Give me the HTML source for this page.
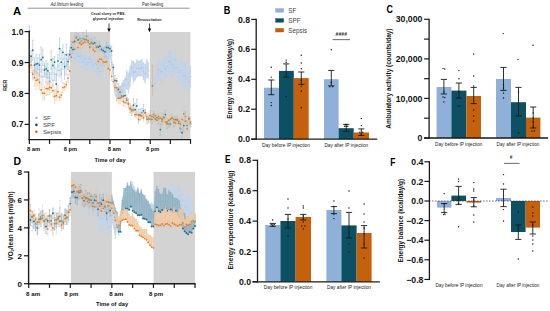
<!DOCTYPE html>
<html><head><meta charset="utf-8"><style>
html,body{margin:0;padding:0;background:#fff;}
svg{display:block;font-family:"Liberation Sans", sans-serif;}
</style></head><body>
<svg width="550" height="311" viewBox="0 0 550 311">
<rect width="550" height="311" fill="#fff"/>
<rect x="70.00" y="32.00" width="40.00" height="107.50" fill="#d3d3d3"/>
<rect x="150.00" y="32.00" width="40.40" height="107.50" fill="#d3d3d3"/>
<polygon points="68.00,58.77 69.67,46.85 71.35,51.11 73.03,43.24 74.71,52.65 76.39,47.33 78.07,50.97 79.74,49.78 81.42,49.20 83.10,56.03 84.78,51.51 86.46,58.10 88.13,57.84 89.81,50.91 91.49,55.57 93.17,58.73 94.85,55.17 96.53,56.54 98.20,62.48 99.88,64.61 101.56,59.20 103.24,55.53 104.92,53.06 106.59,49.06 108.27,52.34 109.95,46.65 111.63,57.34 113.31,66.85 114.98,84.39 116.66,89.94 118.34,86.29 120.02,87.30 121.70,83.62 123.38,80.25 125.05,78.15 126.73,70.76 128.41,73.28 130.09,66.38 131.77,60.63 133.44,61.57 135.12,63.77 136.80,59.92 138.48,61.14 140.16,60.74 141.83,59.42 143.51,62.90 145.19,64.60 146.87,59.40 148.55,62.95 148.55,78.62 146.87,77.22 145.19,82.91 143.51,79.81 141.83,75.87 140.16,76.22 138.48,75.71 136.80,77.03 135.12,80.00 133.44,82.50 131.77,75.32 130.09,86.54 128.41,92.98 126.73,88.52 125.05,92.65 123.38,90.63 121.70,95.74 120.02,100.36 118.34,97.71 116.66,101.42 114.98,94.90 113.31,79.66 111.63,67.76 109.95,56.21 108.27,64.46 106.59,63.82 104.92,62.53 103.24,71.24 101.56,71.92 99.88,78.32 98.20,74.09 96.53,72.61 94.85,71.86 93.17,72.04 91.49,69.33 89.81,67.03 88.13,67.65 86.46,70.72 84.78,65.79 83.10,68.46 81.42,62.24 79.74,62.55 78.07,61.70 76.39,59.77 74.71,63.56 73.03,53.32 71.35,61.19 69.67,55.21 68.00,69.77" fill="#c3d4ea" fill-opacity="0.8"/>
<polygon points="153.58,77.91 155.26,75.79 156.94,65.87 158.62,59.10 160.29,63.27 161.97,59.72 163.65,57.48 165.33,58.19 167.01,57.86 168.68,51.36 170.36,50.11 172.04,52.35 173.72,58.48 175.40,48.15 177.07,58.90 178.75,64.79 180.43,58.59 182.11,60.69 183.79,63.45 185.47,63.20 187.14,67.71 188.82,71.54 190.50,66.56 190.50,86.89 188.82,90.87 187.14,87.27 185.47,88.83 183.79,87.87 182.11,85.95 180.43,82.27 178.75,80.11 177.07,76.61 175.40,72.67 173.72,76.59 172.04,75.99 170.36,74.54 168.68,72.34 167.01,75.70 165.33,79.12 163.65,74.18 161.97,83.58 160.29,79.77 158.62,80.12 156.94,81.62 155.26,90.11 153.58,92.18" fill="#c3d4ea" fill-opacity="0.8"/>
<path d="M29.40 53.14V68.54M28.60 53.14h1.6M28.60 68.54h1.6M31.08 55.86V67.80M30.28 55.86h1.6M30.28 67.80h1.6M32.76 65.39V80.03M31.96 65.39h1.6M31.96 80.03h1.6M34.43 62.36V77.94M33.63 62.36h1.6M33.63 77.94h1.6M36.11 63.14V79.04M35.31 63.14h1.6M35.31 79.04h1.6M37.79 66.30V79.45M36.99 66.30h1.6M36.99 79.45h1.6M39.47 68.27V81.50M38.67 68.27h1.6M38.67 81.50h1.6M41.15 69.12V84.24M40.35 69.12h1.6M40.35 84.24h1.6M42.82 68.70V85.04M42.02 68.70h1.6M42.02 85.04h1.6M44.50 64.63V75.04M43.70 64.63h1.6M43.70 75.04h1.6M46.18 65.75V82.35M45.38 65.75h1.6M45.38 82.35h1.6M47.86 71.38V84.18M47.06 71.38h1.6M47.06 84.18h1.6M49.54 72.67V83.07M48.74 72.67h1.6M48.74 83.07h1.6M51.22 68.37V80.08M50.42 68.37h1.6M50.42 80.08h1.6M52.89 74.49V86.28M52.09 74.49h1.6M52.09 86.28h1.6M54.57 68.46V80.24M53.77 68.46h1.6M53.77 80.24h1.6M56.25 68.10V80.28M55.45 68.10h1.6M55.45 80.28h1.6M57.93 65.00V75.36M57.13 65.00h1.6M57.13 75.36h1.6M59.61 63.13V77.71M58.81 63.13h1.6M58.81 77.71h1.6M61.28 69.19V80.66M60.48 69.19h1.6M60.48 80.66h1.6M62.96 58.42V69.45M62.16 58.42h1.6M62.16 69.45h1.6M64.64 62.00V74.47M63.84 62.00h1.6M63.84 74.47h1.6M66.32 58.22V74.80M65.52 58.22h1.6M65.52 74.80h1.6M68.00 58.77V69.77M67.20 58.77h1.6M67.20 69.77h1.6M69.67 46.85V55.21M68.88 46.85h1.6M68.88 55.21h1.6M71.35 51.11V61.19M70.55 51.11h1.6M70.55 61.19h1.6M73.03 43.24V53.32M72.23 43.24h1.6M72.23 53.32h1.6M74.71 52.65V63.56M73.91 52.65h1.6M73.91 63.56h1.6M76.39 47.33V59.77M75.59 47.33h1.6M75.59 59.77h1.6M78.07 50.97V61.70M77.27 50.97h1.6M77.27 61.70h1.6M79.74 49.78V62.55M78.94 49.78h1.6M78.94 62.55h1.6M81.42 49.20V62.24M80.62 49.20h1.6M80.62 62.24h1.6M83.10 56.03V68.46M82.30 56.03h1.6M82.30 68.46h1.6M84.78 51.51V65.79M83.98 51.51h1.6M83.98 65.79h1.6M86.46 58.10V70.72M85.66 58.10h1.6M85.66 70.72h1.6M88.13 57.84V67.65M87.33 57.84h1.6M87.33 67.65h1.6M89.81 50.91V67.03M89.01 50.91h1.6M89.01 67.03h1.6M91.49 55.57V69.33M90.69 55.57h1.6M90.69 69.33h1.6M93.17 58.73V72.04M92.37 58.73h1.6M92.37 72.04h1.6M94.85 55.17V71.86M94.05 55.17h1.6M94.05 71.86h1.6M96.53 56.54V72.61M95.73 56.54h1.6M95.73 72.61h1.6M98.20 62.48V74.09M97.40 62.48h1.6M97.40 74.09h1.6M99.88 64.61V78.32M99.08 64.61h1.6M99.08 78.32h1.6M101.56 59.20V71.92M100.76 59.20h1.6M100.76 71.92h1.6M103.24 55.53V71.24M102.44 55.53h1.6M102.44 71.24h1.6M104.92 53.06V62.53M104.12 53.06h1.6M104.12 62.53h1.6M106.59 49.06V63.82M105.79 49.06h1.6M105.79 63.82h1.6M108.27 52.34V64.46M107.47 52.34h1.6M107.47 64.46h1.6M109.95 46.65V56.21M109.15 46.65h1.6M109.15 56.21h1.6M111.63 57.34V67.76M110.83 57.34h1.6M110.83 67.76h1.6M113.31 66.85V79.66M112.51 66.85h1.6M112.51 79.66h1.6M114.98 84.39V94.90M114.18 84.39h1.6M114.18 94.90h1.6M116.66 89.94V101.42M115.86 89.94h1.6M115.86 101.42h1.6M118.34 86.29V97.71M117.54 86.29h1.6M117.54 97.71h1.6M120.02 87.30V100.36M119.22 87.30h1.6M119.22 100.36h1.6M121.70 83.62V95.74M120.90 83.62h1.6M120.90 95.74h1.6M123.38 80.25V90.63M122.58 80.25h1.6M122.58 90.63h1.6M125.05 78.15V92.65M124.25 78.15h1.6M124.25 92.65h1.6M126.73 70.76V88.52M125.93 70.76h1.6M125.93 88.52h1.6M128.41 73.28V92.98M127.61 73.28h1.6M127.61 92.98h1.6M130.09 66.38V86.54M129.29 66.38h1.6M129.29 86.54h1.6M131.77 60.63V75.32M130.97 60.63h1.6M130.97 75.32h1.6M133.44 61.57V82.50M132.64 61.57h1.6M132.64 82.50h1.6M135.12 63.77V80.00M134.32 63.77h1.6M134.32 80.00h1.6M136.80 59.92V77.03M136.00 59.92h1.6M136.00 77.03h1.6M138.48 61.14V75.71M137.68 61.14h1.6M137.68 75.71h1.6M140.16 60.74V76.22M139.36 60.74h1.6M139.36 76.22h1.6M141.83 59.42V75.87M141.03 59.42h1.6M141.03 75.87h1.6M143.51 62.90V79.81M142.71 62.90h1.6M142.71 79.81h1.6M145.19 64.60V82.91M144.39 64.60h1.6M144.39 82.91h1.6M146.87 59.40V77.22M146.07 59.40h1.6M146.07 77.22h1.6M148.55 62.95V78.62M147.75 62.95h1.6M147.75 78.62h1.6M153.58 77.91V92.18M152.78 77.91h1.6M152.78 92.18h1.6M155.26 75.79V90.11M154.46 75.79h1.6M154.46 90.11h1.6M156.94 65.87V81.62M156.14 65.87h1.6M156.14 81.62h1.6M158.62 59.10V80.12M157.82 59.10h1.6M157.82 80.12h1.6M160.29 63.27V79.77M159.49 63.27h1.6M159.49 79.77h1.6M161.97 59.72V83.58M161.17 59.72h1.6M161.17 83.58h1.6M163.65 57.48V74.18M162.85 57.48h1.6M162.85 74.18h1.6M165.33 58.19V79.12M164.53 58.19h1.6M164.53 79.12h1.6M167.01 57.86V75.70M166.21 57.86h1.6M166.21 75.70h1.6M168.68 51.36V72.34M167.88 51.36h1.6M167.88 72.34h1.6M170.36 50.11V74.54M169.56 50.11h1.6M169.56 74.54h1.6M172.04 52.35V75.99M171.24 52.35h1.6M171.24 75.99h1.6M173.72 58.48V76.59M172.92 58.48h1.6M172.92 76.59h1.6M175.40 48.15V72.67M174.60 48.15h1.6M174.60 72.67h1.6M177.07 58.90V76.61M176.27 58.90h1.6M176.27 76.61h1.6M178.75 64.79V80.11M177.95 64.79h1.6M177.95 80.11h1.6M180.43 58.59V82.27M179.63 58.59h1.6M179.63 82.27h1.6M182.11 60.69V85.95M181.31 60.69h1.6M181.31 85.95h1.6M183.79 63.45V87.87M182.99 63.45h1.6M182.99 87.87h1.6M185.47 63.20V88.83M184.67 63.20h1.6M184.67 88.83h1.6M187.14 67.71V87.27M186.34 67.71h1.6M186.34 87.27h1.6M188.82 71.54V90.87M188.02 71.54h1.6M188.02 90.87h1.6M190.50 66.56V86.89M189.70 66.56h1.6M189.70 86.89h1.6" stroke="#c0d2e8" stroke-width="0.7" fill="none" stroke-opacity="1.0"/>
<g fill="#aec7e6"><circle cx="29.40" cy="60.84" r="0.8"/><circle cx="31.08" cy="61.83" r="0.8"/><circle cx="32.76" cy="72.71" r="0.8"/><circle cx="34.43" cy="70.15" r="0.8"/><circle cx="36.11" cy="71.09" r="0.8"/><circle cx="37.79" cy="72.88" r="0.8"/><circle cx="39.47" cy="74.88" r="0.8"/><circle cx="41.15" cy="76.68" r="0.8"/><circle cx="42.82" cy="76.87" r="0.8"/><circle cx="44.50" cy="69.84" r="0.8"/><circle cx="46.18" cy="74.05" r="0.8"/><circle cx="47.86" cy="77.78" r="0.8"/><circle cx="49.54" cy="77.87" r="0.8"/><circle cx="51.22" cy="74.23" r="0.8"/><circle cx="52.89" cy="80.38" r="0.8"/><circle cx="54.57" cy="74.35" r="0.8"/><circle cx="56.25" cy="74.19" r="0.8"/><circle cx="57.93" cy="70.18" r="0.8"/><circle cx="59.61" cy="70.42" r="0.8"/><circle cx="61.28" cy="74.92" r="0.8"/><circle cx="62.96" cy="63.93" r="0.8"/><circle cx="64.64" cy="68.24" r="0.8"/><circle cx="66.32" cy="66.51" r="0.8"/><circle cx="68.00" cy="64.27" r="0.8"/><circle cx="69.67" cy="51.03" r="0.8"/><circle cx="71.35" cy="56.15" r="0.8"/><circle cx="73.03" cy="48.28" r="0.8"/><circle cx="74.71" cy="58.11" r="0.8"/><circle cx="76.39" cy="53.55" r="0.8"/><circle cx="78.07" cy="56.33" r="0.8"/><circle cx="79.74" cy="56.17" r="0.8"/><circle cx="81.42" cy="55.72" r="0.8"/><circle cx="83.10" cy="62.25" r="0.8"/><circle cx="84.78" cy="58.65" r="0.8"/><circle cx="86.46" cy="64.41" r="0.8"/><circle cx="88.13" cy="62.74" r="0.8"/><circle cx="89.81" cy="58.97" r="0.8"/><circle cx="91.49" cy="62.45" r="0.8"/><circle cx="93.17" cy="65.39" r="0.8"/><circle cx="94.85" cy="63.52" r="0.8"/><circle cx="96.53" cy="64.58" r="0.8"/><circle cx="98.20" cy="68.28" r="0.8"/><circle cx="99.88" cy="71.47" r="0.8"/><circle cx="101.56" cy="65.56" r="0.8"/><circle cx="103.24" cy="63.39" r="0.8"/><circle cx="104.92" cy="57.79" r="0.8"/><circle cx="106.59" cy="56.44" r="0.8"/><circle cx="108.27" cy="58.40" r="0.8"/><circle cx="109.95" cy="51.43" r="0.8"/><circle cx="111.63" cy="62.55" r="0.8"/><circle cx="113.31" cy="73.26" r="0.8"/><circle cx="114.98" cy="89.64" r="0.8"/><circle cx="116.66" cy="95.68" r="0.8"/><circle cx="118.34" cy="92.00" r="0.8"/><circle cx="120.02" cy="93.83" r="0.8"/><circle cx="121.70" cy="89.68" r="0.8"/><circle cx="123.38" cy="85.44" r="0.8"/><circle cx="125.05" cy="85.40" r="0.8"/><circle cx="126.73" cy="79.64" r="0.8"/><circle cx="128.41" cy="83.13" r="0.8"/><circle cx="130.09" cy="76.46" r="0.8"/><circle cx="131.77" cy="67.98" r="0.8"/><circle cx="133.44" cy="72.04" r="0.8"/><circle cx="135.12" cy="71.88" r="0.8"/><circle cx="136.80" cy="68.48" r="0.8"/><circle cx="138.48" cy="68.42" r="0.8"/><circle cx="140.16" cy="68.48" r="0.8"/><circle cx="141.83" cy="67.64" r="0.8"/><circle cx="143.51" cy="71.35" r="0.8"/><circle cx="145.19" cy="73.75" r="0.8"/><circle cx="146.87" cy="68.31" r="0.8"/><circle cx="148.55" cy="70.79" r="0.8"/><circle cx="153.58" cy="85.04" r="0.8"/><circle cx="155.26" cy="82.95" r="0.8"/><circle cx="156.94" cy="73.75" r="0.8"/><circle cx="158.62" cy="69.61" r="0.8"/><circle cx="160.29" cy="71.52" r="0.8"/><circle cx="161.97" cy="71.65" r="0.8"/><circle cx="163.65" cy="65.83" r="0.8"/><circle cx="165.33" cy="68.65" r="0.8"/><circle cx="167.01" cy="66.78" r="0.8"/><circle cx="168.68" cy="61.85" r="0.8"/><circle cx="170.36" cy="62.33" r="0.8"/><circle cx="172.04" cy="64.17" r="0.8"/><circle cx="173.72" cy="67.53" r="0.8"/><circle cx="175.40" cy="60.41" r="0.8"/><circle cx="177.07" cy="67.75" r="0.8"/><circle cx="178.75" cy="72.45" r="0.8"/><circle cx="180.43" cy="70.43" r="0.8"/><circle cx="182.11" cy="73.32" r="0.8"/><circle cx="183.79" cy="75.66" r="0.8"/><circle cx="185.47" cy="76.01" r="0.8"/><circle cx="187.14" cy="77.49" r="0.8"/><circle cx="188.82" cy="81.21" r="0.8"/><circle cx="190.50" cy="76.72" r="0.8"/></g>
<path d="M29.40 25.85V36.26M28.60 25.85h1.6M28.60 36.26h1.6M31.08 50.82V61.67M30.28 50.82h1.6M30.28 61.67h1.6M32.76 40.25V60.22M31.96 40.25h1.6M31.96 60.22h1.6M34.43 57.92V72.25M33.63 57.92h1.6M33.63 72.25h1.6M36.11 54.77V73.36M35.31 54.77h1.6M35.31 73.36h1.6M37.79 57.65V69.65M36.99 57.65h1.6M36.99 69.65h1.6M39.47 54.65V75.44M38.67 54.65h1.6M38.67 75.44h1.6M41.15 47.02V72.05M40.35 47.02h1.6M40.35 72.05h1.6M42.82 49.25V65.71M42.02 49.25h1.6M42.02 65.71h1.6M44.50 63.13V76.83M43.70 63.13h1.6M43.70 76.83h1.6M46.18 60.45V77.23M45.38 60.45h1.6M45.38 77.23h1.6M47.86 63.46V77.95M47.06 63.46h1.6M47.06 77.95h1.6M49.54 72.46V90.18M48.74 72.46h1.6M48.74 90.18h1.6M51.22 50.65V68.92M50.42 50.65h1.6M50.42 68.92h1.6M52.89 58.21V72.80M52.09 58.21h1.6M52.09 72.80h1.6M54.57 56.38V68.04M53.77 56.38h1.6M53.77 68.04h1.6M56.25 73.96V94.00M55.45 73.96h1.6M55.45 94.00h1.6M57.93 54.70V67.06M57.13 54.70h1.6M57.13 67.06h1.6M59.61 38.22V59.20M58.81 38.22h1.6M58.81 59.20h1.6M61.28 50.33V73.99M60.48 50.33h1.6M60.48 73.99h1.6M62.96 44.85V59.89M62.16 44.85h1.6M62.16 59.89h1.6M64.64 54.31V79.13M63.84 54.31h1.6M63.84 79.13h1.6M66.32 44.20V65.48M65.52 44.20h1.6M65.52 65.48h1.6M68.00 53.65V69.53M67.20 53.65h1.6M67.20 69.53h1.6M69.67 50.06V59.26M68.88 50.06h1.6M68.88 59.26h1.6M71.35 41.30V54.02M70.55 41.30h1.6M70.55 54.02h1.6M73.03 45.64V53.56M72.23 45.64h1.6M72.23 53.56h1.6M74.71 35.32V47.48M73.91 35.32h1.6M73.91 47.48h1.6M76.39 32.35V41.87M75.59 32.35h1.6M75.59 41.87h1.6M78.07 33.79V46.05M77.27 33.79h1.6M77.27 46.05h1.6M79.74 35.26V41.87M78.94 35.26h1.6M78.94 41.87h1.6M81.42 37.23V44.59M80.62 37.23h1.6M80.62 44.59h1.6M83.10 32.64V44.48M82.30 32.64h1.6M82.30 44.48h1.6M84.78 36.12V42.91M83.98 36.12h1.6M83.98 42.91h1.6M86.46 30.28V42.29M85.66 30.28h1.6M85.66 42.29h1.6M88.13 35.64V45.63M87.33 35.64h1.6M87.33 45.63h1.6M89.81 39.17V48.66M89.01 39.17h1.6M89.01 48.66h1.6M91.49 37.78V46.70M90.69 37.78h1.6M90.69 46.70h1.6M93.17 39.76V48.05M92.37 39.76h1.6M92.37 48.05h1.6M94.85 37.16V48.45M94.05 37.16h1.6M94.05 48.45h1.6M96.53 40.94V51.30M95.73 40.94h1.6M95.73 51.30h1.6M98.20 42.34V51.92M97.40 42.34h1.6M97.40 51.92h1.6M99.88 41.32V50.94M99.08 41.32h1.6M99.08 50.94h1.6M101.56 47.04V51.75M100.76 47.04h1.6M100.76 51.75h1.6M103.24 47.76V53.59M102.44 47.76h1.6M102.44 53.59h1.6M104.92 46.55V56.80M104.12 46.55h1.6M104.12 56.80h1.6M106.59 42.44V52.43M105.79 42.44h1.6M105.79 52.43h1.6M108.27 44.79V50.57M107.47 44.79h1.6M107.47 50.57h1.6M109.95 45.22V52.13M109.15 45.22h1.6M109.15 52.13h1.6M111.63 46.37V55.61M110.83 46.37h1.6M110.83 55.61h1.6M113.31 64.52V70.19M112.51 64.52h1.6M112.51 70.19h1.6M114.98 75.68V85.33M114.18 75.68h1.6M114.18 85.33h1.6M116.66 78.37V83.33M115.86 78.37h1.6M115.86 83.33h1.6M118.34 83.97V94.79M117.54 83.97h1.6M117.54 94.79h1.6M120.02 86.23V98.13M119.22 86.23h1.6M119.22 98.13h1.6M121.70 92.60V99.23M120.90 92.60h1.6M120.90 99.23h1.6M123.38 91.67V100.55M122.58 91.67h1.6M122.58 100.55h1.6M125.05 92.52V98.53M124.25 92.52h1.6M124.25 98.53h1.6M126.73 97.29V103.42M125.93 97.29h1.6M125.93 103.42h1.6M128.41 98.86V108.17M127.61 98.86h1.6M127.61 108.17h1.6M130.09 105.24V112.49M129.29 105.24h1.6M129.29 112.49h1.6M131.77 106.12V115.45M130.97 106.12h1.6M130.97 115.45h1.6M133.44 98.56V111.85M132.64 98.56h1.6M132.64 111.85h1.6M135.12 103.30V116.09M134.32 103.30h1.6M134.32 116.09h1.6M136.80 99.06V112.74M136.00 99.06h1.6M136.00 112.74h1.6M138.48 109.12V121.09M137.68 109.12h1.6M137.68 121.09h1.6M140.16 108.97V120.30M139.36 108.97h1.6M139.36 120.30h1.6M141.83 108.55V116.64M141.03 108.55h1.6M141.03 116.64h1.6M143.51 104.50V117.18M142.71 104.50h1.6M142.71 117.18h1.6M145.19 109.61V115.78M144.39 109.61h1.6M144.39 115.78h1.6M146.87 114.74V123.93M146.07 114.74h1.6M146.07 123.93h1.6M148.55 116.05V122.07M147.75 116.05h1.6M147.75 122.07h1.6M150.22 110.68V120.16M149.42 110.68h1.6M149.42 120.16h1.6M151.90 115.29V123.33M151.10 115.29h1.6M151.10 123.33h1.6M153.58 111.34V117.19M152.78 111.34h1.6M152.78 117.19h1.6M155.26 116.22V121.43M154.46 116.22h1.6M154.46 121.43h1.6M156.94 114.84V120.35M156.14 114.84h1.6M156.14 120.35h1.6M158.62 114.05V123.76M157.82 114.05h1.6M157.82 123.76h1.6M160.29 123.57V135.62M159.49 123.57h1.6M159.49 135.62h1.6M161.97 112.88V125.40M161.17 112.88h1.6M161.17 125.40h1.6M163.65 114.40V121.12M162.85 114.40h1.6M162.85 121.12h1.6M165.33 109.90V119.27M164.53 109.90h1.6M164.53 119.27h1.6M167.01 118.57V128.86M166.21 118.57h1.6M166.21 128.86h1.6M168.68 120.67V127.43M167.88 120.67h1.6M167.88 127.43h1.6M170.36 121.37V126.17M169.56 121.37h1.6M169.56 126.17h1.6M172.04 115.51V120.55M171.24 115.51h1.6M171.24 120.55h1.6M173.72 116.84V127.24M172.92 116.84h1.6M172.92 127.24h1.6M175.40 116.61V123.25M174.60 116.61h1.6M174.60 123.25h1.6M177.07 116.11V122.68M176.27 116.11h1.6M176.27 122.68h1.6M178.75 118.24V124.69M177.95 118.24h1.6M177.95 124.69h1.6M180.43 124.91V132.09M179.63 124.91h1.6M179.63 132.09h1.6M182.11 127.78V137.54M181.31 127.78h1.6M181.31 137.54h1.6M183.79 119.46V131.73M182.99 119.46h1.6M182.99 131.73h1.6M185.47 111.31V121.75M184.67 111.31h1.6M184.67 121.75h1.6M187.14 120.71V130.01M186.34 120.71h1.6M186.34 130.01h1.6M188.82 116.15V121.31M188.02 116.15h1.6M188.02 121.31h1.6M190.50 120.60V126.78M189.70 120.60h1.6M189.70 126.78h1.6" stroke="#9bbfd0" stroke-width="0.6" fill="none" stroke-opacity="1.0"/>
<g fill="#2f7590"><circle cx="29.40" cy="31.05" r="0.9"/><circle cx="31.08" cy="56.25" r="0.9"/><circle cx="32.76" cy="50.24" r="0.9"/><circle cx="34.43" cy="65.08" r="0.9"/><circle cx="36.11" cy="64.07" r="0.9"/><circle cx="37.79" cy="63.65" r="0.9"/><circle cx="39.47" cy="65.05" r="0.9"/><circle cx="41.15" cy="59.53" r="0.9"/><circle cx="42.82" cy="57.48" r="0.9"/><circle cx="44.50" cy="69.98" r="0.9"/><circle cx="46.18" cy="68.84" r="0.9"/><circle cx="47.86" cy="70.71" r="0.9"/><circle cx="49.54" cy="81.32" r="0.9"/><circle cx="51.22" cy="59.79" r="0.9"/><circle cx="52.89" cy="65.50" r="0.9"/><circle cx="54.57" cy="62.21" r="0.9"/><circle cx="56.25" cy="83.98" r="0.9"/><circle cx="57.93" cy="60.88" r="0.9"/><circle cx="59.61" cy="48.71" r="0.9"/><circle cx="61.28" cy="62.16" r="0.9"/><circle cx="62.96" cy="52.37" r="0.9"/><circle cx="64.64" cy="66.72" r="0.9"/><circle cx="66.32" cy="54.84" r="0.9"/><circle cx="68.00" cy="61.59" r="0.9"/><circle cx="69.67" cy="54.66" r="0.9"/><circle cx="71.35" cy="47.66" r="0.9"/><circle cx="73.03" cy="49.60" r="0.9"/><circle cx="74.71" cy="41.40" r="0.9"/><circle cx="76.39" cy="37.11" r="0.9"/><circle cx="78.07" cy="39.92" r="0.9"/><circle cx="79.74" cy="38.56" r="0.9"/><circle cx="81.42" cy="40.91" r="0.9"/><circle cx="83.10" cy="38.56" r="0.9"/><circle cx="84.78" cy="39.51" r="0.9"/><circle cx="86.46" cy="36.29" r="0.9"/><circle cx="88.13" cy="40.64" r="0.9"/><circle cx="89.81" cy="43.92" r="0.9"/><circle cx="91.49" cy="42.24" r="0.9"/><circle cx="93.17" cy="43.90" r="0.9"/><circle cx="94.85" cy="42.81" r="0.9"/><circle cx="96.53" cy="46.12" r="0.9"/><circle cx="98.20" cy="47.13" r="0.9"/><circle cx="99.88" cy="46.13" r="0.9"/><circle cx="101.56" cy="49.39" r="0.9"/><circle cx="103.24" cy="50.67" r="0.9"/><circle cx="104.92" cy="51.67" r="0.9"/><circle cx="106.59" cy="47.44" r="0.9"/><circle cx="108.27" cy="47.68" r="0.9"/><circle cx="109.95" cy="48.67" r="0.9"/><circle cx="111.63" cy="50.99" r="0.9"/><circle cx="113.31" cy="67.36" r="0.9"/><circle cx="114.98" cy="80.50" r="0.9"/><circle cx="116.66" cy="80.85" r="0.9"/><circle cx="118.34" cy="89.38" r="0.9"/><circle cx="120.02" cy="92.18" r="0.9"/><circle cx="121.70" cy="95.92" r="0.9"/><circle cx="123.38" cy="96.11" r="0.9"/><circle cx="125.05" cy="95.52" r="0.9"/><circle cx="126.73" cy="100.36" r="0.9"/><circle cx="128.41" cy="103.52" r="0.9"/><circle cx="130.09" cy="108.87" r="0.9"/><circle cx="131.77" cy="110.78" r="0.9"/><circle cx="133.44" cy="105.21" r="0.9"/><circle cx="135.12" cy="109.69" r="0.9"/><circle cx="136.80" cy="105.90" r="0.9"/><circle cx="138.48" cy="115.10" r="0.9"/><circle cx="140.16" cy="114.63" r="0.9"/><circle cx="141.83" cy="112.60" r="0.9"/><circle cx="143.51" cy="110.84" r="0.9"/><circle cx="145.19" cy="112.69" r="0.9"/><circle cx="146.87" cy="119.33" r="0.9"/><circle cx="148.55" cy="119.06" r="0.9"/><circle cx="150.22" cy="115.42" r="0.9"/><circle cx="151.90" cy="119.31" r="0.9"/><circle cx="153.58" cy="114.27" r="0.9"/><circle cx="155.26" cy="118.83" r="0.9"/><circle cx="156.94" cy="117.60" r="0.9"/><circle cx="158.62" cy="118.90" r="0.9"/><circle cx="160.29" cy="129.59" r="0.9"/><circle cx="161.97" cy="119.14" r="0.9"/><circle cx="163.65" cy="117.76" r="0.9"/><circle cx="165.33" cy="114.59" r="0.9"/><circle cx="167.01" cy="123.71" r="0.9"/><circle cx="168.68" cy="124.05" r="0.9"/><circle cx="170.36" cy="123.77" r="0.9"/><circle cx="172.04" cy="118.03" r="0.9"/><circle cx="173.72" cy="122.04" r="0.9"/><circle cx="175.40" cy="119.93" r="0.9"/><circle cx="177.07" cy="119.39" r="0.9"/><circle cx="178.75" cy="121.46" r="0.9"/><circle cx="180.43" cy="128.50" r="0.9"/><circle cx="182.11" cy="132.66" r="0.9"/><circle cx="183.79" cy="125.59" r="0.9"/><circle cx="185.47" cy="116.53" r="0.9"/><circle cx="187.14" cy="125.36" r="0.9"/><circle cx="188.82" cy="118.73" r="0.9"/><circle cx="190.50" cy="123.69" r="0.9"/></g>
<path d="M29.40 59.88V71.90M28.60 59.88h1.6M28.60 71.90h1.6M31.08 57.85V72.45M30.28 57.85h1.6M30.28 72.45h1.6M32.76 70.46V77.81M31.96 70.46h1.6M31.96 77.81h1.6M34.43 69.24V85.98M33.63 69.24h1.6M33.63 85.98h1.6M36.11 71.22V89.41M35.31 71.22h1.6M35.31 89.41h1.6M37.79 73.81V85.80M36.99 73.81h1.6M36.99 85.80h1.6M39.47 75.70V89.28M38.67 75.70h1.6M38.67 89.28h1.6M41.15 85.87V93.96M40.35 85.87h1.6M40.35 93.96h1.6M42.82 87.32V99.11M42.02 87.32h1.6M42.02 99.11h1.6M44.50 86.46V100.20M43.70 86.46h1.6M43.70 100.20h1.6M46.18 81.80V95.40M45.38 81.80h1.6M45.38 95.40h1.6M47.86 82.84V94.50M47.06 82.84h1.6M47.06 94.50h1.6M49.54 80.53V94.51M48.74 80.53h1.6M48.74 94.51h1.6M51.22 82.63V92.64M50.42 82.63h1.6M50.42 92.64h1.6M52.89 84.67V96.60M52.09 84.67h1.6M52.09 96.60h1.6M54.57 89.73V103.16M53.77 89.73h1.6M53.77 103.16h1.6M56.25 91.20V100.21M55.45 91.20h1.6M55.45 100.21h1.6M57.93 85.31V98.15M57.13 85.31h1.6M57.13 98.15h1.6M59.61 94.17V100.20M58.81 94.17h1.6M58.81 100.20h1.6M61.28 91.84V98.33M60.48 91.84h1.6M60.48 98.33h1.6M62.96 82.86V92.27M62.16 82.86h1.6M62.16 92.27h1.6M64.64 83.48V90.21M63.84 83.48h1.6M63.84 90.21h1.6M66.32 81.22V88.10M65.52 81.22h1.6M65.52 88.10h1.6M68.00 73.97V82.24M67.20 73.97h1.6M67.20 82.24h1.6M69.67 66.70V75.34M68.88 66.70h1.6M68.88 75.34h1.6M71.35 51.94V62.30M70.55 51.94h1.6M70.55 62.30h1.6M73.03 37.92V46.60M72.23 37.92h1.6M72.23 46.60h1.6M74.71 46.45V51.73M73.91 46.45h1.6M73.91 51.73h1.6M76.39 32.78V43.19M75.59 32.78h1.6M75.59 43.19h1.6M78.07 43.51V51.67M77.27 43.51h1.6M77.27 51.67h1.6M79.74 37.96V48.00M78.94 37.96h1.6M78.94 48.00h1.6M81.42 40.35V48.65M80.62 40.35h1.6M80.62 48.65h1.6M83.10 37.91V48.24M82.30 37.91h1.6M82.30 48.24h1.6M84.78 36.38V47.74M83.98 36.38h1.6M83.98 47.74h1.6M86.46 36.05V43.35M85.66 36.05h1.6M85.66 43.35h1.6M88.13 39.55V45.02M87.33 39.55h1.6M87.33 45.02h1.6M89.81 41.86V52.60M89.01 41.86h1.6M89.01 52.60h1.6M91.49 40.44V45.22M90.69 40.44h1.6M90.69 45.22h1.6M93.17 44.88V54.63M92.37 44.88h1.6M92.37 54.63h1.6M94.85 47.85V54.80M94.05 47.85h1.6M94.05 54.80h1.6M96.53 43.14V51.43M95.73 43.14h1.6M95.73 51.43h1.6M98.20 55.47V67.49M97.40 55.47h1.6M97.40 67.49h1.6M99.88 54.47V63.57M99.08 54.47h1.6M99.08 63.57h1.6M101.56 57.24V62.10M100.76 57.24h1.6M100.76 62.10h1.6M103.24 57.20V66.49M102.44 57.20h1.6M102.44 66.49h1.6M104.92 59.23V65.11M104.12 59.23h1.6M104.12 65.11h1.6M106.59 58.16V65.28M105.79 58.16h1.6M105.79 65.28h1.6M108.27 62.38V74.54M107.47 62.38h1.6M107.47 74.54h1.6M109.95 65.70V74.05M109.15 65.70h1.6M109.15 74.05h1.6M111.63 71.90V80.67M110.83 71.90h1.6M110.83 80.67h1.6M113.31 77.09V86.11M112.51 77.09h1.6M112.51 86.11h1.6M114.98 82.74V92.16M114.18 82.74h1.6M114.18 92.16h1.6M116.66 83.66V91.59M115.86 83.66h1.6M115.86 91.59h1.6M118.34 93.15V103.22M117.54 93.15h1.6M117.54 103.22h1.6M120.02 92.12V104.06M119.22 92.12h1.6M119.22 104.06h1.6M121.70 92.90V101.36M120.90 92.90h1.6M120.90 101.36h1.6M123.38 97.83V105.45M122.58 97.83h1.6M122.58 105.45h1.6M125.05 98.10V106.89M124.25 98.10h1.6M124.25 106.89h1.6M126.73 94.71V103.82M125.93 94.71h1.6M125.93 103.82h1.6M128.41 101.69V106.58M127.61 101.69h1.6M127.61 106.58h1.6M130.09 103.58V112.92M129.29 103.58h1.6M129.29 112.92h1.6M131.77 106.14V113.07M130.97 106.14h1.6M130.97 113.07h1.6M133.44 107.50V112.02M132.64 107.50h1.6M132.64 112.02h1.6M135.12 112.19V116.96M134.32 112.19h1.6M134.32 116.96h1.6M136.80 111.51V117.59M136.00 111.51h1.6M136.00 117.59h1.6M138.48 115.65V123.12M137.68 115.65h1.6M137.68 123.12h1.6M140.16 112.44V119.23M139.36 112.44h1.6M139.36 119.23h1.6M141.83 112.64V119.02M141.03 112.64h1.6M141.03 119.02h1.6M143.51 114.81V121.07M142.71 114.81h1.6M142.71 121.07h1.6M145.19 109.47V116.21M144.39 109.47h1.6M144.39 116.21h1.6M146.87 112.56V120.55M146.07 112.56h1.6M146.07 120.55h1.6M148.55 113.62V122.67M147.75 113.62h1.6M147.75 122.67h1.6M150.22 114.29V123.74M149.42 114.29h1.6M149.42 123.74h1.6M151.90 113.52V119.20M151.10 113.52h1.6M151.10 119.20h1.6M153.58 112.95V121.70M152.78 112.95h1.6M152.78 121.70h1.6M155.26 113.35V118.11M154.46 113.35h1.6M154.46 118.11h1.6M156.94 115.37V125.02M156.14 115.37h1.6M156.14 125.02h1.6M158.62 113.16V120.17M157.82 113.16h1.6M157.82 120.17h1.6M160.29 115.04V121.37M159.49 115.04h1.6M159.49 121.37h1.6M161.97 116.83V125.26M161.17 116.83h1.6M161.17 125.26h1.6M163.65 114.42V120.00M162.85 114.42h1.6M162.85 120.00h1.6M165.33 119.66V124.55M164.53 119.66h1.6M164.53 124.55h1.6M167.01 117.22V126.70M166.21 117.22h1.6M166.21 126.70h1.6M168.68 115.63V125.31M167.88 115.63h1.6M167.88 125.31h1.6M170.36 114.46V123.94M169.56 114.46h1.6M169.56 123.94h1.6M172.04 113.86V122.23M171.24 113.86h1.6M171.24 122.23h1.6M173.72 116.99V121.94M172.92 116.99h1.6M172.92 121.94h1.6M175.40 120.22V126.25M174.60 120.22h1.6M174.60 126.25h1.6M177.07 116.81V123.21M176.27 116.81h1.6M176.27 123.21h1.6M178.75 119.77V126.63M177.95 119.77h1.6M177.95 126.63h1.6M180.43 118.65V128.88M179.63 118.65h1.6M179.63 128.88h1.6M182.11 117.05V122.17M181.31 117.05h1.6M181.31 122.17h1.6M183.79 108.91V118.87M182.99 108.91h1.6M182.99 118.87h1.6M185.47 115.90V126.57M184.67 115.90h1.6M184.67 126.57h1.6M187.14 123.41V133.69M186.34 123.41h1.6M186.34 133.69h1.6M188.82 115.94V121.51M188.02 115.94h1.6M188.02 121.51h1.6M190.50 117.83V126.34M189.70 117.83h1.6M189.70 126.34h1.6" stroke="#f1c593" stroke-width="0.6" fill="none" stroke-opacity="1.0"/>
<g fill="#e27d22"><circle cx="29.40" cy="65.89" r="0.9"/><circle cx="31.08" cy="65.15" r="0.9"/><circle cx="32.76" cy="74.14" r="0.9"/><circle cx="34.43" cy="77.61" r="0.9"/><circle cx="36.11" cy="80.31" r="0.9"/><circle cx="37.79" cy="79.81" r="0.9"/><circle cx="39.47" cy="82.49" r="0.9"/><circle cx="41.15" cy="89.92" r="0.9"/><circle cx="42.82" cy="93.22" r="0.9"/><circle cx="44.50" cy="93.33" r="0.9"/><circle cx="46.18" cy="88.60" r="0.9"/><circle cx="47.86" cy="88.67" r="0.9"/><circle cx="49.54" cy="87.52" r="0.9"/><circle cx="51.22" cy="87.63" r="0.9"/><circle cx="52.89" cy="90.63" r="0.9"/><circle cx="54.57" cy="96.44" r="0.9"/><circle cx="56.25" cy="95.70" r="0.9"/><circle cx="57.93" cy="91.73" r="0.9"/><circle cx="59.61" cy="97.19" r="0.9"/><circle cx="61.28" cy="95.09" r="0.9"/><circle cx="62.96" cy="87.56" r="0.9"/><circle cx="64.64" cy="86.85" r="0.9"/><circle cx="66.32" cy="84.66" r="0.9"/><circle cx="68.00" cy="78.11" r="0.9"/><circle cx="69.67" cy="71.02" r="0.9"/><circle cx="71.35" cy="57.12" r="0.9"/><circle cx="73.03" cy="42.26" r="0.9"/><circle cx="74.71" cy="49.09" r="0.9"/><circle cx="76.39" cy="37.99" r="0.9"/><circle cx="78.07" cy="47.59" r="0.9"/><circle cx="79.74" cy="42.98" r="0.9"/><circle cx="81.42" cy="44.50" r="0.9"/><circle cx="83.10" cy="43.08" r="0.9"/><circle cx="84.78" cy="42.06" r="0.9"/><circle cx="86.46" cy="39.70" r="0.9"/><circle cx="88.13" cy="42.29" r="0.9"/><circle cx="89.81" cy="47.23" r="0.9"/><circle cx="91.49" cy="42.83" r="0.9"/><circle cx="93.17" cy="49.75" r="0.9"/><circle cx="94.85" cy="51.33" r="0.9"/><circle cx="96.53" cy="47.29" r="0.9"/><circle cx="98.20" cy="61.48" r="0.9"/><circle cx="99.88" cy="59.02" r="0.9"/><circle cx="101.56" cy="59.67" r="0.9"/><circle cx="103.24" cy="61.85" r="0.9"/><circle cx="104.92" cy="62.17" r="0.9"/><circle cx="106.59" cy="61.72" r="0.9"/><circle cx="108.27" cy="68.46" r="0.9"/><circle cx="109.95" cy="69.87" r="0.9"/><circle cx="111.63" cy="76.29" r="0.9"/><circle cx="113.31" cy="81.60" r="0.9"/><circle cx="114.98" cy="87.45" r="0.9"/><circle cx="116.66" cy="87.63" r="0.9"/><circle cx="118.34" cy="98.18" r="0.9"/><circle cx="120.02" cy="98.09" r="0.9"/><circle cx="121.70" cy="97.13" r="0.9"/><circle cx="123.38" cy="101.64" r="0.9"/><circle cx="125.05" cy="102.49" r="0.9"/><circle cx="126.73" cy="99.27" r="0.9"/><circle cx="128.41" cy="104.13" r="0.9"/><circle cx="130.09" cy="108.25" r="0.9"/><circle cx="131.77" cy="109.61" r="0.9"/><circle cx="133.44" cy="109.76" r="0.9"/><circle cx="135.12" cy="114.58" r="0.9"/><circle cx="136.80" cy="114.55" r="0.9"/><circle cx="138.48" cy="119.38" r="0.9"/><circle cx="140.16" cy="115.83" r="0.9"/><circle cx="141.83" cy="115.83" r="0.9"/><circle cx="143.51" cy="117.94" r="0.9"/><circle cx="145.19" cy="112.84" r="0.9"/><circle cx="146.87" cy="116.56" r="0.9"/><circle cx="148.55" cy="118.15" r="0.9"/><circle cx="150.22" cy="119.01" r="0.9"/><circle cx="151.90" cy="116.36" r="0.9"/><circle cx="153.58" cy="117.32" r="0.9"/><circle cx="155.26" cy="115.73" r="0.9"/><circle cx="156.94" cy="120.20" r="0.9"/><circle cx="158.62" cy="116.66" r="0.9"/><circle cx="160.29" cy="118.20" r="0.9"/><circle cx="161.97" cy="121.04" r="0.9"/><circle cx="163.65" cy="117.21" r="0.9"/><circle cx="165.33" cy="122.11" r="0.9"/><circle cx="167.01" cy="121.96" r="0.9"/><circle cx="168.68" cy="120.47" r="0.9"/><circle cx="170.36" cy="119.20" r="0.9"/><circle cx="172.04" cy="118.05" r="0.9"/><circle cx="173.72" cy="119.46" r="0.9"/><circle cx="175.40" cy="123.23" r="0.9"/><circle cx="177.07" cy="120.01" r="0.9"/><circle cx="178.75" cy="123.20" r="0.9"/><circle cx="180.43" cy="123.77" r="0.9"/><circle cx="182.11" cy="119.61" r="0.9"/><circle cx="183.79" cy="113.89" r="0.9"/><circle cx="185.47" cy="121.23" r="0.9"/><circle cx="187.14" cy="128.55" r="0.9"/><circle cx="188.82" cy="118.72" r="0.9"/><circle cx="190.50" cy="122.08" r="0.9"/></g>
<path d="M152.4 65V95.3M151.6 65h1.6M151.6 95.3h1.6" stroke="#eab27c" stroke-width="0.7" fill="none"/><circle cx="152.4" cy="86" r="0.9" fill="#e27d22"/>
<line x1="29.2" y1="31.0" x2="29.2" y2="140.2" stroke="#1a1a1a" stroke-width="1.4"/>
<line x1="28.5" y1="139.6" x2="191.1" y2="139.6" stroke="#1a1a1a" stroke-width="1.4"/>
<line x1="24.6" y1="31.6" x2="29.2" y2="31.6" stroke="#1a1a1a" stroke-width="1.2"/>
<text x="23.4" y="34.7" font-size="8.5" text-anchor="end" font-weight="bold" fill="#111">1.0</text>
<line x1="24.6" y1="62.529999999999994" x2="29.2" y2="62.529999999999994" stroke="#1a1a1a" stroke-width="1.2"/>
<text x="23.4" y="65.63" font-size="8.5" text-anchor="end" font-weight="bold" fill="#111">0.9</text>
<line x1="24.6" y1="93.45999999999998" x2="29.2" y2="93.45999999999998" stroke="#1a1a1a" stroke-width="1.2"/>
<text x="23.4" y="96.55999999999997" font-size="8.5" text-anchor="end" font-weight="bold" fill="#111">0.8</text>
<line x1="24.6" y1="124.39000000000001" x2="29.2" y2="124.39000000000001" stroke="#1a1a1a" stroke-width="1.2"/>
<text x="23.4" y="127.49000000000001" font-size="8.5" text-anchor="end" font-weight="bold" fill="#111">0.7</text>
<line x1="29.4" y1="139.6" x2="29.4" y2="143.9" stroke="#1a1a1a" stroke-width="1.2"/>
<line x1="49.54" y1="139.6" x2="49.54" y2="143.9" stroke="#1a1a1a" stroke-width="1.2"/>
<line x1="69.68" y1="139.6" x2="69.68" y2="143.9" stroke="#1a1a1a" stroke-width="1.2"/>
<line x1="89.82" y1="139.6" x2="89.82" y2="143.9" stroke="#1a1a1a" stroke-width="1.2"/>
<line x1="109.96000000000001" y1="139.6" x2="109.96000000000001" y2="143.9" stroke="#1a1a1a" stroke-width="1.2"/>
<line x1="130.1" y1="139.6" x2="130.1" y2="143.9" stroke="#1a1a1a" stroke-width="1.2"/>
<line x1="150.24" y1="139.6" x2="150.24" y2="143.9" stroke="#1a1a1a" stroke-width="1.2"/>
<line x1="170.38000000000002" y1="139.6" x2="170.38000000000002" y2="143.9" stroke="#1a1a1a" stroke-width="1.2"/>
<line x1="190.52" y1="139.6" x2="190.52" y2="143.9" stroke="#1a1a1a" stroke-width="1.2"/>
<text x="33.6" y="150.8" font-size="5.8" text-anchor="middle" font-weight="bold" fill="#111" textLength="13.2" lengthAdjust="spacingAndGlyphs">8 am</text>
<text x="70.4" y="150.8" font-size="5.8" text-anchor="middle" font-weight="bold" fill="#111" textLength="13.2" lengthAdjust="spacingAndGlyphs">8 pm</text>
<text x="114.3" y="150.8" font-size="5.8" text-anchor="middle" font-weight="bold" fill="#111" textLength="13.2" lengthAdjust="spacingAndGlyphs">8 am</text>
<text x="152.6" y="150.8" font-size="5.8" text-anchor="middle" font-weight="bold" fill="#111" textLength="13.2" lengthAdjust="spacingAndGlyphs">8 pm</text>
<text x="110.05" y="161.5" font-size="5.9" text-anchor="middle" font-weight="bold" fill="#111" textLength="31.1" lengthAdjust="spacingAndGlyphs">Time of day</text>
<text x="7.0" y="85.2" font-size="5.0" text-anchor="middle" font-weight="bold" fill="#333" textLength="11.1" lengthAdjust="spacingAndGlyphs" transform="rotate(-90 7.0 85.2)">RER</text>
<circle cx="36.4" cy="117.8" r="1.3" fill="#9dbfe3"/>
<text x="42.9" y="120.0" font-size="6.2" text-anchor="start" font-weight="normal" fill="#444">SF</text>
<circle cx="36.4" cy="124.9" r="1.3" fill="#0d4f63"/>
<text x="42.9" y="127.10000000000001" font-size="6.2" text-anchor="start" font-weight="normal" fill="#444">SPF</text>
<circle cx="36.4" cy="131.7" r="1.3" fill="#d8691a"/>
<text x="42.9" y="133.89999999999998" font-size="6.2" text-anchor="start" font-weight="normal" fill="#444">Sepsis</text>
<line x1="27.6" y1="8.2" x2="108.3" y2="8.2" stroke="#666" stroke-width="0.7"/>
<line x1="108.8" y1="8.2" x2="189.6" y2="8.2" stroke="#666" stroke-width="0.7"/>
<text x="66.9" y="6.4" font-size="4.6" text-anchor="middle" fill="#222" textLength="32.6" lengthAdjust="spacingAndGlyphs"><tspan font-style="italic">Ad libitum</tspan> feeding</text>
<text x="152.65" y="6.3" font-size="4.6" text-anchor="middle" font-weight="normal" fill="#222" textLength="21.1" lengthAdjust="spacingAndGlyphs">Pair-feeding</text>
<text x="108.3" y="15.4" font-size="4.4" text-anchor="middle" font-weight="bold" fill="#1a1a1a" textLength="34.6" lengthAdjust="spacingAndGlyphs">Cecal slurry or PBS-</text>
<text x="108.2" y="20.4" font-size="4.4" text-anchor="middle" font-weight="bold" fill="#1a1a1a" textLength="30.8" lengthAdjust="spacingAndGlyphs">glycerol injection</text>
<text x="149.4" y="20.6" font-size="4.4" text-anchor="middle" font-weight="bold" fill="#1a1a1a" textLength="24.2" lengthAdjust="spacingAndGlyphs">Resuscitation</text>
<line x1="109.0" y1="23.5" x2="109.0" y2="29.0" stroke="#111" stroke-width="0.75"/>
<path d="M107.2 28.4 L110.8 28.4 L109.0 32.3 Z" fill="#111"/>
<line x1="149.5" y1="23.5" x2="149.5" y2="29.0" stroke="#111" stroke-width="0.75"/>
<path d="M147.7 28.4 L151.3 28.4 L149.5 32.3 Z" fill="#111"/>
<text x="12.9" y="14.7" font-size="11.5" text-anchor="start" font-weight="bold" fill="#000" textLength="8.1" lengthAdjust="spacingAndGlyphs">A</text>
<rect x="70.90" y="171.90" width="41.00" height="111.80" fill="#d3d3d3"/>
<rect x="153.60" y="171.90" width="41.40" height="111.80" fill="#d3d3d3"/>
<polygon points="87.60,195.84 89.33,200.13 91.06,198.23 92.79,193.67 94.53,200.07 96.26,201.50 97.99,198.88 99.72,205.41 101.46,205.91 103.19,207.08 104.92,206.26 106.65,210.77 108.39,218.84 110.12,220.02 111.85,208.51 113.58,210.94 115.31,217.00 117.05,212.68 118.78,221.53 120.51,212.15 122.24,197.00 123.98,199.22 125.71,195.28 127.44,197.51 129.17,188.19 130.91,194.79 132.64,182.27 134.37,186.99 136.10,190.87 137.83,187.62 139.57,193.41 141.30,191.69 143.03,200.58 144.76,200.35 146.50,199.27 148.23,202.07 149.96,203.91 151.69,202.36 153.43,204.76 155.16,195.51 156.89,190.57 158.62,194.44 160.35,195.42 162.09,188.97 163.82,195.72 165.55,195.96 167.28,194.87 169.02,185.13 170.75,183.69 172.48,183.73 174.21,185.89 175.94,189.81 177.68,188.79 179.41,183.73 181.14,192.17 182.87,189.52 184.61,196.12 186.34,198.23 188.07,192.65 189.80,196.33 191.54,200.94 193.27,205.66 195.00,212.40 195.00,228.11 193.27,227.62 191.54,224.83 189.80,222.04 188.07,219.79 186.34,220.53 184.61,218.10 182.87,211.38 181.14,217.67 179.41,209.34 177.68,214.76 175.94,215.96 174.21,210.51 172.48,209.70 170.75,207.61 169.02,212.35 167.28,213.53 165.55,218.04 163.82,209.90 162.09,213.11 160.35,208.82 158.62,213.69 156.89,210.41 155.16,216.84 153.43,220.12 151.69,217.79 149.96,217.41 148.23,216.50 146.50,211.16 144.76,214.89 143.03,218.48 141.30,205.71 139.57,205.83 137.83,202.29 136.10,208.59 134.37,205.79 132.64,196.39 130.91,207.56 129.17,204.15 127.44,218.79 125.71,208.98 123.98,212.85 122.24,211.23 120.51,225.43 118.78,235.10 117.05,229.27 115.31,238.36 113.58,228.71 111.85,222.67 110.12,233.52 108.39,235.99 106.65,228.68 104.92,224.75 103.19,230.56 101.46,231.30 99.72,230.33 97.99,216.13 96.26,217.75 94.53,215.09 92.79,212.63 91.06,211.28 89.33,216.02 87.60,212.47" fill="#c3d4ea" fill-opacity="0.85"/>
<path d="M28.70 216.73V232.49M27.90 216.73h1.6M27.90 232.49h1.6M30.43 212.22V224.53M29.63 212.22h1.6M29.63 224.53h1.6M32.16 220.85V231.04M31.36 220.85h1.6M31.36 231.04h1.6M33.90 214.82V227.48M33.10 214.82h1.6M33.10 227.48h1.6M35.63 221.61V231.12M34.83 221.61h1.6M34.83 231.12h1.6M37.36 221.59V232.67M36.56 221.59h1.6M36.56 232.67h1.6M39.09 208.98V223.00M38.29 208.98h1.6M38.29 223.00h1.6M40.83 213.94V223.05M40.03 213.94h1.6M40.03 223.05h1.6M42.56 205.41V219.14M41.76 205.41h1.6M41.76 219.14h1.6M44.29 217.43V230.86M43.49 217.43h1.6M43.49 230.86h1.6M46.02 216.43V229.21M45.22 216.43h1.6M45.22 229.21h1.6M47.76 218.23V227.48M46.96 218.23h1.6M46.96 227.48h1.6M49.49 218.07V227.09M48.69 218.07h1.6M48.69 227.09h1.6M51.22 214.29V226.58M50.42 214.29h1.6M50.42 226.58h1.6M52.95 223.52V236.23M52.15 223.52h1.6M52.15 236.23h1.6M54.68 212.68V226.30M53.88 212.68h1.6M53.88 226.30h1.6M56.42 221.52V233.76M55.62 221.52h1.6M55.62 233.76h1.6M58.15 215.89V226.78M57.35 215.89h1.6M57.35 226.78h1.6M59.88 200.36V215.49M59.08 200.36h1.6M59.08 215.49h1.6M61.61 212.96V227.09M60.81 212.96h1.6M60.81 227.09h1.6M63.35 214.42V225.40M62.55 214.42h1.6M62.55 225.40h1.6M65.08 210.50V219.83M64.28 210.50h1.6M64.28 219.83h1.6M66.81 208.70V223.88M66.01 208.70h1.6M66.01 223.88h1.6M68.54 210.53V222.24M67.74 210.53h1.6M67.74 222.24h1.6M70.28 196.73V205.53M69.48 196.73h1.6M69.48 205.53h1.6M72.01 190.96V201.62M71.21 190.96h1.6M71.21 201.62h1.6M73.74 180.59V197.67M72.94 180.59h1.6M72.94 197.67h1.6M75.47 190.16V202.93M74.67 190.16h1.6M74.67 202.93h1.6M77.20 182.83V199.12M76.40 182.83h1.6M76.40 199.12h1.6M78.94 188.98V201.31M78.14 188.98h1.6M78.14 201.31h1.6M80.67 186.99V205.73M79.87 186.99h1.6M79.87 205.73h1.6M82.40 190.57V207.90M81.60 190.57h1.6M81.60 207.90h1.6M84.13 194.83V206.51M83.33 194.83h1.6M83.33 206.51h1.6M85.87 196.12V207.67M85.07 196.12h1.6M85.07 207.67h1.6M87.60 195.84V212.47M86.80 195.84h1.6M86.80 212.47h1.6M89.33 200.13V216.02M88.53 200.13h1.6M88.53 216.02h1.6M91.06 198.23V211.28M90.26 198.23h1.6M90.26 211.28h1.6M92.79 193.67V212.63M91.99 193.67h1.6M91.99 212.63h1.6M94.53 200.07V215.09M93.73 200.07h1.6M93.73 215.09h1.6M96.26 201.50V217.75M95.46 201.50h1.6M95.46 217.75h1.6M97.99 198.88V216.13M97.19 198.88h1.6M97.19 216.13h1.6M99.72 205.41V230.33M98.92 205.41h1.6M98.92 230.33h1.6M101.46 205.91V231.30M100.66 205.91h1.6M100.66 231.30h1.6M103.19 207.08V230.56M102.39 207.08h1.6M102.39 230.56h1.6M104.92 206.26V224.75M104.12 206.26h1.6M104.12 224.75h1.6M106.65 210.77V228.68M105.85 210.77h1.6M105.85 228.68h1.6M108.39 218.84V235.99M107.59 218.84h1.6M107.59 235.99h1.6M110.12 220.02V233.52M109.32 220.02h1.6M109.32 233.52h1.6M111.85 208.51V222.67M111.05 208.51h1.6M111.05 222.67h1.6M113.58 210.94V228.71M112.78 210.94h1.6M112.78 228.71h1.6M115.31 217.00V238.36M114.51 217.00h1.6M114.51 238.36h1.6M117.05 212.68V229.27M116.25 212.68h1.6M116.25 229.27h1.6M118.78 221.53V235.10M117.98 221.53h1.6M117.98 235.10h1.6M120.51 212.15V225.43M119.71 212.15h1.6M119.71 225.43h1.6M122.24 197.00V211.23M121.44 197.00h1.6M121.44 211.23h1.6M123.98 199.22V212.85M123.18 199.22h1.6M123.18 212.85h1.6M125.71 195.28V208.98M124.91 195.28h1.6M124.91 208.98h1.6M127.44 197.51V218.79M126.64 197.51h1.6M126.64 218.79h1.6M129.17 188.19V204.15M128.37 188.19h1.6M128.37 204.15h1.6M130.91 194.79V207.56M130.11 194.79h1.6M130.11 207.56h1.6M132.64 182.27V196.39M131.84 182.27h1.6M131.84 196.39h1.6M134.37 186.99V205.79M133.57 186.99h1.6M133.57 205.79h1.6M136.10 190.87V208.59M135.30 190.87h1.6M135.30 208.59h1.6M137.83 187.62V202.29M137.03 187.62h1.6M137.03 202.29h1.6M139.57 193.41V205.83M138.77 193.41h1.6M138.77 205.83h1.6M141.30 191.69V205.71M140.50 191.69h1.6M140.50 205.71h1.6M143.03 200.58V218.48M142.23 200.58h1.6M142.23 218.48h1.6M144.76 200.35V214.89M143.96 200.35h1.6M143.96 214.89h1.6M146.50 199.27V211.16M145.70 199.27h1.6M145.70 211.16h1.6M148.23 202.07V216.50M147.43 202.07h1.6M147.43 216.50h1.6M149.96 203.91V217.41M149.16 203.91h1.6M149.16 217.41h1.6M151.69 202.36V217.79M150.89 202.36h1.6M150.89 217.79h1.6M153.43 204.76V220.12M152.62 204.76h1.6M152.62 220.12h1.6M155.16 195.51V216.84M154.36 195.51h1.6M154.36 216.84h1.6M156.89 190.57V210.41M156.09 190.57h1.6M156.09 210.41h1.6M158.62 194.44V213.69M157.82 194.44h1.6M157.82 213.69h1.6M160.35 195.42V208.82M159.55 195.42h1.6M159.55 208.82h1.6M162.09 188.97V213.11M161.29 188.97h1.6M161.29 213.11h1.6M163.82 195.72V209.90M163.02 195.72h1.6M163.02 209.90h1.6M165.55 195.96V218.04M164.75 195.96h1.6M164.75 218.04h1.6M167.28 194.87V213.53M166.48 194.87h1.6M166.48 213.53h1.6M169.02 185.13V212.35M168.22 185.13h1.6M168.22 212.35h1.6M170.75 183.69V207.61M169.95 183.69h1.6M169.95 207.61h1.6M172.48 183.73V209.70M171.68 183.73h1.6M171.68 209.70h1.6M174.21 185.89V210.51M173.41 185.89h1.6M173.41 210.51h1.6M175.94 189.81V215.96M175.14 189.81h1.6M175.14 215.96h1.6M177.68 188.79V214.76M176.88 188.79h1.6M176.88 214.76h1.6M179.41 183.73V209.34M178.61 183.73h1.6M178.61 209.34h1.6M181.14 192.17V217.67M180.34 192.17h1.6M180.34 217.67h1.6M182.87 189.52V211.38M182.07 189.52h1.6M182.07 211.38h1.6M184.61 196.12V218.10M183.81 196.12h1.6M183.81 218.10h1.6M186.34 198.23V220.53M185.54 198.23h1.6M185.54 220.53h1.6M188.07 192.65V219.79M187.27 192.65h1.6M187.27 219.79h1.6M189.80 196.33V222.04M189.00 196.33h1.6M189.00 222.04h1.6M191.54 200.94V224.83M190.74 200.94h1.6M190.74 224.83h1.6M193.27 205.66V227.62M192.47 205.66h1.6M192.47 227.62h1.6M195.00 212.40V228.11M194.20 212.40h1.6M194.20 228.11h1.6" stroke="#c3d4ea" stroke-width="0.55" fill="none" stroke-opacity="1.0"/>
<g fill="#b4cce8"><circle cx="28.70" cy="224.61" r="0.8"/><circle cx="30.43" cy="218.37" r="0.8"/><circle cx="32.16" cy="225.94" r="0.8"/><circle cx="33.90" cy="221.15" r="0.8"/><circle cx="35.63" cy="226.37" r="0.8"/><circle cx="37.36" cy="227.13" r="0.8"/><circle cx="39.09" cy="215.99" r="0.8"/><circle cx="40.83" cy="218.49" r="0.8"/><circle cx="42.56" cy="212.27" r="0.8"/><circle cx="44.29" cy="224.15" r="0.8"/><circle cx="46.02" cy="222.82" r="0.8"/><circle cx="47.76" cy="222.85" r="0.8"/><circle cx="49.49" cy="222.58" r="0.8"/><circle cx="51.22" cy="220.44" r="0.8"/><circle cx="52.95" cy="229.87" r="0.8"/><circle cx="54.68" cy="219.49" r="0.8"/><circle cx="56.42" cy="227.64" r="0.8"/><circle cx="58.15" cy="221.34" r="0.8"/><circle cx="59.88" cy="207.92" r="0.8"/><circle cx="61.61" cy="220.02" r="0.8"/><circle cx="63.35" cy="219.91" r="0.8"/><circle cx="65.08" cy="215.17" r="0.8"/><circle cx="66.81" cy="216.29" r="0.8"/><circle cx="68.54" cy="216.38" r="0.8"/><circle cx="70.28" cy="201.13" r="0.8"/><circle cx="72.01" cy="196.29" r="0.8"/><circle cx="73.74" cy="189.13" r="0.8"/><circle cx="75.47" cy="196.54" r="0.8"/><circle cx="77.20" cy="190.98" r="0.8"/><circle cx="78.94" cy="195.15" r="0.8"/><circle cx="80.67" cy="196.36" r="0.8"/><circle cx="82.40" cy="199.24" r="0.8"/><circle cx="84.13" cy="200.67" r="0.8"/><circle cx="85.87" cy="201.90" r="0.8"/><circle cx="87.60" cy="204.15" r="0.8"/><circle cx="89.33" cy="208.07" r="0.8"/><circle cx="91.06" cy="204.75" r="0.8"/><circle cx="92.79" cy="203.15" r="0.8"/><circle cx="94.53" cy="207.58" r="0.8"/><circle cx="96.26" cy="209.63" r="0.8"/><circle cx="97.99" cy="207.50" r="0.8"/><circle cx="99.72" cy="217.87" r="0.8"/><circle cx="101.46" cy="218.61" r="0.8"/><circle cx="103.19" cy="218.82" r="0.8"/><circle cx="104.92" cy="215.50" r="0.8"/><circle cx="106.65" cy="219.72" r="0.8"/><circle cx="108.39" cy="227.41" r="0.8"/><circle cx="110.12" cy="226.77" r="0.8"/><circle cx="111.85" cy="215.59" r="0.8"/><circle cx="113.58" cy="219.82" r="0.8"/><circle cx="115.31" cy="227.68" r="0.8"/><circle cx="117.05" cy="220.97" r="0.8"/><circle cx="118.78" cy="228.32" r="0.8"/><circle cx="120.51" cy="218.79" r="0.8"/><circle cx="122.24" cy="204.11" r="0.8"/><circle cx="123.98" cy="206.03" r="0.8"/><circle cx="125.71" cy="202.13" r="0.8"/><circle cx="127.44" cy="208.15" r="0.8"/><circle cx="129.17" cy="196.17" r="0.8"/><circle cx="130.91" cy="201.17" r="0.8"/><circle cx="132.64" cy="189.33" r="0.8"/><circle cx="134.37" cy="196.39" r="0.8"/><circle cx="136.10" cy="199.73" r="0.8"/><circle cx="137.83" cy="194.95" r="0.8"/><circle cx="139.57" cy="199.62" r="0.8"/><circle cx="141.30" cy="198.70" r="0.8"/><circle cx="143.03" cy="209.53" r="0.8"/><circle cx="144.76" cy="207.62" r="0.8"/><circle cx="146.50" cy="205.21" r="0.8"/><circle cx="148.23" cy="209.28" r="0.8"/><circle cx="149.96" cy="210.66" r="0.8"/><circle cx="151.69" cy="210.08" r="0.8"/><circle cx="153.43" cy="212.44" r="0.8"/><circle cx="155.16" cy="206.17" r="0.8"/><circle cx="156.89" cy="200.49" r="0.8"/><circle cx="158.62" cy="204.07" r="0.8"/><circle cx="160.35" cy="202.12" r="0.8"/><circle cx="162.09" cy="201.04" r="0.8"/><circle cx="163.82" cy="202.81" r="0.8"/><circle cx="165.55" cy="207.00" r="0.8"/><circle cx="167.28" cy="204.20" r="0.8"/><circle cx="169.02" cy="198.74" r="0.8"/><circle cx="170.75" cy="195.65" r="0.8"/><circle cx="172.48" cy="196.71" r="0.8"/><circle cx="174.21" cy="198.20" r="0.8"/><circle cx="175.94" cy="202.88" r="0.8"/><circle cx="177.68" cy="201.78" r="0.8"/><circle cx="179.41" cy="196.53" r="0.8"/><circle cx="181.14" cy="204.92" r="0.8"/><circle cx="182.87" cy="200.45" r="0.8"/><circle cx="184.61" cy="207.11" r="0.8"/><circle cx="186.34" cy="209.38" r="0.8"/><circle cx="188.07" cy="206.22" r="0.8"/><circle cx="189.80" cy="209.18" r="0.8"/><circle cx="191.54" cy="212.88" r="0.8"/><circle cx="193.27" cy="216.64" r="0.8"/><circle cx="195.00" cy="220.26" r="0.8"/></g>
<polygon points="111.85,195.29 113.58,201.29 115.31,207.93 117.05,211.90 118.78,220.18 120.51,217.68 122.24,200.41 123.98,188.51 125.71,188.12 127.44,182.89 129.17,186.70 130.91,181.65 132.64,189.53 134.37,191.04 136.10,192.94 137.83,188.94 139.57,193.90 141.30,189.84 143.03,194.87 144.76,195.65 146.50,199.88 148.23,201.27 149.96,205.25 151.69,209.19 153.43,211.98 155.16,191.83 156.89,186.46 158.62,189.67 160.35,194.39 162.09,194.45 163.82,188.30 165.55,188.26 167.28,195.17 169.02,190.57 170.75,192.51 172.48,194.60 174.21,198.35 175.94,198.08 177.68,199.31 179.41,200.97 181.14,209.52 182.87,212.42 184.61,213.49 186.34,218.11 188.07,216.75 189.80,220.76 191.54,221.30 193.27,216.61 195.00,214.71 195.00,225.89 193.27,228.39 191.54,232.77 189.80,231.97 188.07,234.28 186.34,232.93 184.61,231.37 182.87,228.39 181.14,221.99 179.41,216.56 177.68,214.72 175.94,210.78 174.21,212.40 172.48,211.57 170.75,209.44 169.02,209.59 167.28,211.05 165.55,208.28 163.82,210.05 162.09,209.94 160.35,211.88 158.62,210.98 156.89,207.58 155.16,211.50 153.43,226.62 151.69,226.39 149.96,222.29 148.23,222.33 146.50,219.39 144.76,218.81 143.03,218.51 141.30,214.80 139.57,215.21 137.83,215.26 136.10,213.18 134.37,212.24 132.64,210.79 130.91,206.49 129.17,209.64 127.44,208.83 125.71,208.59 123.98,209.90 122.24,213.05 120.51,231.79 118.78,231.82 117.05,224.76 115.31,217.23 113.58,211.48 111.85,203.62" fill="#9ab8c8" fill-opacity="0.85"/>
<path d="M28.70 220.84V234.24M27.90 220.84h1.6M27.90 234.24h1.6M30.43 214.66V225.43M29.63 214.66h1.6M29.63 225.43h1.6M32.16 211.22V222.65M31.36 211.22h1.6M31.36 222.65h1.6M33.90 214.22V228.34M33.10 214.22h1.6M33.10 228.34h1.6M35.63 217.62V230.47M34.83 217.62h1.6M34.83 230.47h1.6M37.36 221.03V234.40M36.56 221.03h1.6M36.56 234.40h1.6M39.09 213.90V224.77M38.29 213.90h1.6M38.29 224.77h1.6M40.83 211.65V226.26M40.03 211.65h1.6M40.03 226.26h1.6M42.56 210.37V220.80M41.76 210.37h1.6M41.76 220.80h1.6M44.29 213.98V227.49M43.49 213.98h1.6M43.49 227.49h1.6M46.02 219.31V233.60M45.22 219.31h1.6M45.22 233.60h1.6M47.76 215.75V225.89M46.96 215.75h1.6M46.96 225.89h1.6M49.49 209.85V222.46M48.69 209.85h1.6M48.69 222.46h1.6M51.22 215.55V226.06M50.42 215.55h1.6M50.42 226.06h1.6M52.95 208.03V218.65M52.15 208.03h1.6M52.15 218.65h1.6M54.68 217.72V229.90M53.88 217.72h1.6M53.88 229.90h1.6M56.42 213.27V226.44M55.62 213.27h1.6M55.62 226.44h1.6M58.15 213.41V224.28M57.35 213.41h1.6M57.35 224.28h1.6M59.88 215.87V226.78M59.08 215.87h1.6M59.08 226.78h1.6M61.61 214.04V228.19M60.81 214.04h1.6M60.81 228.19h1.6M63.35 215.76V228.81M62.55 215.76h1.6M62.55 228.81h1.6M65.08 209.00V221.45M64.28 209.00h1.6M64.28 221.45h1.6M66.81 210.60V224.31M66.01 210.60h1.6M66.01 224.31h1.6M68.54 205.07V219.99M67.74 205.07h1.6M67.74 219.99h1.6M70.28 197.88V209.72M69.48 197.88h1.6M69.48 209.72h1.6M72.01 186.01V197.95M71.21 186.01h1.6M71.21 197.95h1.6M73.74 186.21V196.93M72.94 186.21h1.6M72.94 196.93h1.6M75.47 191.71V203.10M74.67 191.71h1.6M74.67 203.10h1.6M77.20 190.26V204.64M76.40 190.26h1.6M76.40 204.64h1.6M78.94 186.11V198.97M78.14 186.11h1.6M78.14 198.97h1.6M80.67 184.41V196.97M79.87 184.41h1.6M79.87 196.97h1.6M82.40 191.79V204.85M81.60 191.79h1.6M81.60 204.85h1.6M84.13 194.40V206.85M83.33 194.40h1.6M83.33 206.85h1.6M85.87 190.55V205.07M85.07 190.55h1.6M85.07 205.07h1.6M87.60 192.69V204.14M86.80 192.69h1.6M86.80 204.14h1.6M89.33 192.73V206.97M88.53 192.73h1.6M88.53 206.97h1.6M91.06 194.03V206.46M90.26 194.03h1.6M90.26 206.46h1.6M92.79 195.95V210.00M91.99 195.95h1.6M91.99 210.00h1.6M94.53 194.31V206.13M93.73 194.31h1.6M93.73 206.13h1.6M96.26 194.58V206.85M95.46 194.58h1.6M95.46 206.85h1.6M97.99 202.42V215.82M97.19 202.42h1.6M97.19 215.82h1.6M99.72 194.75V210.77M98.92 194.75h1.6M98.92 210.77h1.6M101.46 197.80V210.67M100.66 197.80h1.6M100.66 210.67h1.6M103.19 194.28V206.25M102.39 194.28h1.6M102.39 206.25h1.6M104.92 201.02V212.04M104.12 201.02h1.6M104.12 212.04h1.6M106.65 207.12V219.63M105.85 207.12h1.6M105.85 219.63h1.6M108.39 199.83V212.24M107.59 199.83h1.6M107.59 212.24h1.6M110.12 204.99V216.16M109.32 204.99h1.6M109.32 216.16h1.6M111.85 195.29V203.62M111.05 195.29h1.6M113.58 201.29V211.48M112.78 201.29h1.6M115.31 207.93V217.23M114.51 207.93h1.6M117.05 211.90V224.76M116.25 211.90h1.6M118.78 220.18V231.82M117.98 220.18h1.6M120.51 217.68V231.79M119.71 217.68h1.6M122.24 200.41V213.05M121.44 200.41h1.6M123.98 188.51V209.90M123.18 188.51h1.6M125.71 188.12V208.59M124.91 188.12h1.6M127.44 182.89V208.83M126.64 182.89h1.6M129.17 186.70V209.64M128.37 186.70h1.6M130.91 181.65V206.49M130.11 181.65h1.6M132.64 189.53V210.79M131.84 189.53h1.6M134.37 191.04V212.24M133.57 191.04h1.6M136.10 192.94V213.18M135.30 192.94h1.6M137.83 188.94V215.26M137.03 188.94h1.6M139.57 193.90V215.21M138.77 193.90h1.6M141.30 189.84V214.80M140.50 189.84h1.6M143.03 194.87V218.51M142.23 194.87h1.6M144.76 195.65V218.81M143.96 195.65h1.6M146.50 199.88V219.39M145.70 199.88h1.6M148.23 201.27V222.33M147.43 201.27h1.6M149.96 205.25V222.29M149.16 205.25h1.6M151.69 209.19V226.39M150.89 209.19h1.6M153.43 211.98V226.62M152.62 211.98h1.6M155.16 191.83V211.50M154.36 191.83h1.6M156.89 186.46V207.58M156.09 186.46h1.6M158.62 189.67V210.98M157.82 189.67h1.6M160.35 194.39V211.88M159.55 194.39h1.6M162.09 194.45V209.94M161.29 194.45h1.6M163.82 188.30V210.05M163.02 188.30h1.6M165.55 188.26V208.28M164.75 188.26h1.6M167.28 195.17V211.05M166.48 195.17h1.6M169.02 190.57V209.59M168.22 190.57h1.6M170.75 192.51V209.44M169.95 192.51h1.6M172.48 194.60V211.57M171.68 194.60h1.6M174.21 198.35V212.40M173.41 198.35h1.6M175.94 198.08V210.78M175.14 198.08h1.6M177.68 199.31V214.72M176.88 199.31h1.6M179.41 200.97V216.56M178.61 200.97h1.6M181.14 209.52V221.99M180.34 209.52h1.6M182.87 212.42V228.39M182.07 212.42h1.6M184.61 213.49V231.37M183.81 213.49h1.6M186.34 218.11V232.93M185.54 218.11h1.6M188.07 216.75V234.28M187.27 216.75h1.6M189.80 220.76V231.97M189.00 220.76h1.6M191.54 221.30V232.77M190.74 221.30h1.6M193.27 216.61V228.39M192.47 216.61h1.6M195.00 214.71V225.89M194.20 214.71h1.6" stroke="#88abbd" stroke-width="0.65" fill="none" stroke-opacity="1.0"/>
<g fill="#2a6f88"><circle cx="28.70" cy="227.54" r="1.0"/><circle cx="30.43" cy="220.05" r="1.0"/><circle cx="32.16" cy="216.94" r="1.0"/><circle cx="33.90" cy="221.28" r="1.0"/><circle cx="35.63" cy="224.04" r="1.0"/><circle cx="37.36" cy="227.71" r="1.0"/><circle cx="39.09" cy="219.33" r="1.0"/><circle cx="40.83" cy="218.95" r="1.0"/><circle cx="42.56" cy="215.59" r="1.0"/><circle cx="44.29" cy="220.74" r="1.0"/><circle cx="46.02" cy="226.45" r="1.0"/><circle cx="47.76" cy="220.82" r="1.0"/><circle cx="49.49" cy="216.15" r="1.0"/><circle cx="51.22" cy="220.81" r="1.0"/><circle cx="52.95" cy="213.34" r="1.0"/><circle cx="54.68" cy="223.81" r="1.0"/><circle cx="56.42" cy="219.85" r="1.0"/><circle cx="58.15" cy="218.84" r="1.0"/><circle cx="59.88" cy="221.33" r="1.0"/><circle cx="61.61" cy="221.11" r="1.0"/><circle cx="63.35" cy="222.28" r="1.0"/><circle cx="65.08" cy="215.23" r="1.0"/><circle cx="66.81" cy="217.45" r="1.0"/><circle cx="68.54" cy="212.53" r="1.0"/><circle cx="70.28" cy="203.80" r="1.0"/><circle cx="72.01" cy="191.98" r="1.0"/><circle cx="73.74" cy="191.57" r="1.0"/><circle cx="75.47" cy="197.40" r="1.0"/><circle cx="77.20" cy="197.45" r="1.0"/><circle cx="78.94" cy="192.54" r="1.0"/><circle cx="80.67" cy="190.69" r="1.0"/><circle cx="82.40" cy="198.32" r="1.0"/><circle cx="84.13" cy="200.63" r="1.0"/><circle cx="85.87" cy="197.81" r="1.0"/><circle cx="87.60" cy="198.41" r="1.0"/><circle cx="89.33" cy="199.85" r="1.0"/><circle cx="91.06" cy="200.25" r="1.0"/><circle cx="92.79" cy="202.97" r="1.0"/><circle cx="94.53" cy="200.22" r="1.0"/><circle cx="96.26" cy="200.72" r="1.0"/><circle cx="97.99" cy="209.12" r="1.0"/><circle cx="99.72" cy="202.76" r="1.0"/><circle cx="101.46" cy="204.23" r="1.0"/><circle cx="103.19" cy="200.27" r="1.0"/><circle cx="104.92" cy="206.53" r="1.0"/><circle cx="106.65" cy="213.37" r="1.0"/><circle cx="108.39" cy="206.04" r="1.0"/><circle cx="110.12" cy="210.57" r="1.0"/><circle cx="111.85" cy="203.62" r="1.0"/><circle cx="113.58" cy="211.48" r="1.0"/><circle cx="115.31" cy="217.23" r="1.0"/><circle cx="117.05" cy="224.76" r="1.0"/><circle cx="118.78" cy="231.82" r="1.0"/><circle cx="120.51" cy="231.79" r="1.0"/><circle cx="122.24" cy="213.05" r="1.0"/><circle cx="123.98" cy="209.90" r="1.0"/><circle cx="125.71" cy="208.59" r="1.0"/><circle cx="127.44" cy="208.83" r="1.0"/><circle cx="129.17" cy="209.64" r="1.0"/><circle cx="130.91" cy="206.49" r="1.0"/><circle cx="132.64" cy="210.79" r="1.0"/><circle cx="134.37" cy="212.24" r="1.0"/><circle cx="136.10" cy="213.18" r="1.0"/><circle cx="137.83" cy="215.26" r="1.0"/><circle cx="139.57" cy="215.21" r="1.0"/><circle cx="141.30" cy="214.80" r="1.0"/><circle cx="143.03" cy="218.51" r="1.0"/><circle cx="144.76" cy="218.81" r="1.0"/><circle cx="146.50" cy="219.39" r="1.0"/><circle cx="148.23" cy="222.33" r="1.0"/><circle cx="149.96" cy="222.29" r="1.0"/><circle cx="151.69" cy="226.39" r="1.0"/><circle cx="153.43" cy="226.62" r="1.0"/><circle cx="155.16" cy="211.50" r="1.0"/><circle cx="156.89" cy="207.58" r="1.0"/><circle cx="158.62" cy="210.98" r="1.0"/><circle cx="160.35" cy="211.88" r="1.0"/><circle cx="162.09" cy="209.94" r="1.0"/><circle cx="163.82" cy="210.05" r="1.0"/><circle cx="165.55" cy="208.28" r="1.0"/><circle cx="167.28" cy="211.05" r="1.0"/><circle cx="169.02" cy="209.59" r="1.0"/><circle cx="170.75" cy="209.44" r="1.0"/><circle cx="172.48" cy="211.57" r="1.0"/><circle cx="174.21" cy="212.40" r="1.0"/><circle cx="175.94" cy="210.78" r="1.0"/><circle cx="177.68" cy="214.72" r="1.0"/><circle cx="179.41" cy="216.56" r="1.0"/><circle cx="181.14" cy="221.99" r="1.0"/><circle cx="182.87" cy="228.39" r="1.0"/><circle cx="184.61" cy="231.37" r="1.0"/><circle cx="186.34" cy="232.93" r="1.0"/><circle cx="188.07" cy="234.28" r="1.0"/><circle cx="189.80" cy="231.97" r="1.0"/><circle cx="191.54" cy="232.77" r="1.0"/><circle cx="193.27" cy="228.39" r="1.0"/><circle cx="195.00" cy="225.89" r="1.0"/></g>
<polygon points="111.85,203.39 113.58,205.45 115.31,213.05 117.05,214.85 118.78,216.83 120.51,211.37 122.24,210.97 123.98,208.13 125.71,209.42 127.44,209.82 129.17,214.33 130.91,216.77 132.64,214.09 134.37,217.71 136.10,219.26 137.83,222.11 139.57,226.51 141.30,227.70 143.03,229.82 144.76,229.28 146.50,229.60 148.23,235.07 149.96,235.52 151.69,237.04 153.43,238.41 155.16,212.84 156.89,208.49 158.62,213.49 160.35,214.73 162.09,212.66 163.82,209.26 165.55,206.76 167.28,212.36 169.02,208.61 170.75,211.83 172.48,211.60 174.21,207.70 175.94,213.53 177.68,213.26 179.41,208.86 181.14,209.54 182.87,210.24 184.61,220.09 186.34,216.86 188.07,216.30 189.80,218.24 191.54,212.23 193.27,212.25 195.00,214.22 195.00,221.75 193.27,220.53 191.54,221.38 189.80,224.44 188.07,225.22 186.34,224.33 184.61,226.86 182.87,222.99 181.14,224.67 179.41,224.93 177.68,226.14 175.94,225.04 174.21,224.22 172.48,222.95 170.75,226.11 169.02,224.69 167.28,223.74 165.55,224.14 163.82,225.84 162.09,224.02 160.35,225.43 158.62,225.48 156.89,224.71 155.16,224.27 153.43,247.86 151.69,247.07 149.96,245.20 148.23,242.41 146.50,239.86 144.76,238.56 143.03,237.34 141.30,236.44 139.57,235.03 137.83,230.70 136.10,230.74 134.37,228.65 132.64,225.87 130.91,225.55 129.17,224.93 127.44,221.89 125.71,219.17 123.98,219.54 122.24,220.09 120.51,221.62 118.78,225.47 117.05,227.06 115.31,220.39 113.58,213.23 111.85,208.23" fill="#f2cfaa" fill-opacity="0.8"/>
<path d="M28.70 192.81V205.00M27.90 192.81h1.6M27.90 205.00h1.6M30.43 203.96V217.08M29.63 203.96h1.6M29.63 217.08h1.6M32.16 211.88V221.07M31.36 211.88h1.6M31.36 221.07h1.6M33.90 210.89V220.52M33.10 210.89h1.6M33.10 220.52h1.6M35.63 213.82V225.16M34.83 213.82h1.6M34.83 225.16h1.6M37.36 217.45V227.02M36.56 217.45h1.6M36.56 227.02h1.6M39.09 215.56V228.61M38.29 215.56h1.6M38.29 228.61h1.6M40.83 211.05V222.83M40.03 211.05h1.6M40.03 222.83h1.6M42.56 213.49V222.69M41.76 213.49h1.6M41.76 222.69h1.6M44.29 214.66V227.90M43.49 214.66h1.6M43.49 227.90h1.6M46.02 212.63V225.62M45.22 212.63h1.6M45.22 225.62h1.6M47.76 222.56V235.10M46.96 222.56h1.6M46.96 235.10h1.6M49.49 210.60V220.41M48.69 210.60h1.6M48.69 220.41h1.6M51.22 217.47V230.60M50.42 217.47h1.6M50.42 230.60h1.6M52.95 222.24V233.77M52.15 222.24h1.6M52.15 233.77h1.6M54.68 214.94V225.72M53.88 214.94h1.6M53.88 225.72h1.6M56.42 218.11V228.24M55.62 218.11h1.6M55.62 228.24h1.6M58.15 212.29V221.32M57.35 212.29h1.6M57.35 221.32h1.6M59.88 209.57V223.45M59.08 209.57h1.6M59.08 223.45h1.6M61.61 218.66V230.89M60.81 218.66h1.6M60.81 230.89h1.6M63.35 218.93V228.06M62.55 218.93h1.6M62.55 228.06h1.6M65.08 212.42V224.58M64.28 212.42h1.6M64.28 224.58h1.6M66.81 212.80V222.31M66.01 212.80h1.6M66.01 222.31h1.6M68.54 206.02V217.31M67.74 206.02h1.6M67.74 217.31h1.6M70.28 203.92V215.68M69.48 203.92h1.6M69.48 215.68h1.6M72.01 180.37V191.01M71.21 180.37h1.6M71.21 191.01h1.6M73.74 180.06V189.86M72.94 180.06h1.6M72.94 189.86h1.6M75.47 182.32V192.16M74.67 182.32h1.6M74.67 192.16h1.6M77.20 187.24V196.21M76.40 187.24h1.6M76.40 196.21h1.6M78.94 184.81V197.14M78.14 184.81h1.6M78.14 197.14h1.6M80.67 185.79V198.57M79.87 185.79h1.6M79.87 198.57h1.6M82.40 191.17V205.25M81.60 191.17h1.6M81.60 205.25h1.6M84.13 189.85V203.27M83.33 189.85h1.6M83.33 203.27h1.6M85.87 191.86V205.53M85.07 191.86h1.6M85.07 205.53h1.6M87.60 195.72V206.96M86.80 195.72h1.6M86.80 206.96h1.6M89.33 195.31V209.29M88.53 195.31h1.6M88.53 209.29h1.6M91.06 191.30V201.40M90.26 191.30h1.6M90.26 201.40h1.6M92.79 199.33V213.37M91.99 199.33h1.6M91.99 213.37h1.6M94.53 201.90V211.71M93.73 201.90h1.6M93.73 211.71h1.6M96.26 189.13V204.01M95.46 189.13h1.6M95.46 204.01h1.6M97.99 197.96V208.32M97.19 197.96h1.6M97.19 208.32h1.6M99.72 199.78V212.65M98.92 199.78h1.6M98.92 212.65h1.6M101.46 205.42V216.78M100.66 205.42h1.6M100.66 216.78h1.6M103.19 201.47V215.14M102.39 201.47h1.6M102.39 215.14h1.6M104.92 201.54V211.80M104.12 201.54h1.6M104.12 211.80h1.6M106.65 194.88V208.41M105.85 194.88h1.6M105.85 208.41h1.6M108.39 197.33V207.10M107.59 197.33h1.6M107.59 207.10h1.6M110.12 195.80V209.21M109.32 195.80h1.6M109.32 209.21h1.6M111.85 203.39V208.23M111.05 203.39h1.6M113.58 205.45V213.23M112.78 205.45h1.6M115.31 213.05V220.39M114.51 213.05h1.6M117.05 214.85V227.06M116.25 214.85h1.6M118.78 216.83V225.47M117.98 216.83h1.6M120.51 211.37V221.62M119.71 211.37h1.6M122.24 210.97V220.09M121.44 210.97h1.6M123.98 208.13V219.54M123.18 208.13h1.6M125.71 209.42V219.17M124.91 209.42h1.6M127.44 209.82V221.89M126.64 209.82h1.6M129.17 214.33V224.93M128.37 214.33h1.6M130.91 216.77V225.55M130.11 216.77h1.6M132.64 214.09V225.87M131.84 214.09h1.6M134.37 217.71V228.65M133.57 217.71h1.6M136.10 219.26V230.74M135.30 219.26h1.6M137.83 222.11V230.70M137.03 222.11h1.6M139.57 226.51V235.03M138.77 226.51h1.6M141.30 227.70V236.44M140.50 227.70h1.6M143.03 229.82V237.34M142.23 229.82h1.6M144.76 229.28V238.56M143.96 229.28h1.6M146.50 229.60V239.86M145.70 229.60h1.6M148.23 235.07V242.41M147.43 235.07h1.6M149.96 235.52V245.20M149.16 235.52h1.6M151.69 237.04V247.07M150.89 237.04h1.6M153.43 238.41V247.86M152.62 238.41h1.6M155.16 212.84V224.27M154.36 212.84h1.6M156.89 208.49V224.71M156.09 208.49h1.6M158.62 213.49V225.48M157.82 213.49h1.6M160.35 214.73V225.43M159.55 214.73h1.6M162.09 212.66V224.02M161.29 212.66h1.6M163.82 209.26V225.84M163.02 209.26h1.6M165.55 206.76V224.14M164.75 206.76h1.6M167.28 212.36V223.74M166.48 212.36h1.6M169.02 208.61V224.69M168.22 208.61h1.6M170.75 211.83V226.11M169.95 211.83h1.6M172.48 211.60V222.95M171.68 211.60h1.6M174.21 207.70V224.22M173.41 207.70h1.6M175.94 213.53V225.04M175.14 213.53h1.6M177.68 213.26V226.14M176.88 213.26h1.6M179.41 208.86V224.93M178.61 208.86h1.6M181.14 209.54V224.67M180.34 209.54h1.6M182.87 210.24V222.99M182.07 210.24h1.6M184.61 220.09V226.86M183.81 220.09h1.6M186.34 216.86V224.33M185.54 216.86h1.6M188.07 216.30V225.22M187.27 216.30h1.6M189.80 218.24V224.44M189.00 218.24h1.6M191.54 212.23V221.38M190.74 212.23h1.6M193.27 212.25V220.53M192.47 212.25h1.6M195.00 214.22V221.75M194.20 214.22h1.6" stroke="#efc39a" stroke-width="0.6" fill="none" stroke-opacity="1.0"/>
<g fill="#e27d22"><circle cx="28.70" cy="198.90" r="0.9"/><circle cx="30.43" cy="210.52" r="0.9"/><circle cx="32.16" cy="216.48" r="0.9"/><circle cx="33.90" cy="215.70" r="0.9"/><circle cx="35.63" cy="219.49" r="0.9"/><circle cx="37.36" cy="222.24" r="0.9"/><circle cx="39.09" cy="222.09" r="0.9"/><circle cx="40.83" cy="216.94" r="0.9"/><circle cx="42.56" cy="218.09" r="0.9"/><circle cx="44.29" cy="221.28" r="0.9"/><circle cx="46.02" cy="219.13" r="0.9"/><circle cx="47.76" cy="228.83" r="0.9"/><circle cx="49.49" cy="215.50" r="0.9"/><circle cx="51.22" cy="224.04" r="0.9"/><circle cx="52.95" cy="228.01" r="0.9"/><circle cx="54.68" cy="220.33" r="0.9"/><circle cx="56.42" cy="223.17" r="0.9"/><circle cx="58.15" cy="216.80" r="0.9"/><circle cx="59.88" cy="216.51" r="0.9"/><circle cx="61.61" cy="224.78" r="0.9"/><circle cx="63.35" cy="223.49" r="0.9"/><circle cx="65.08" cy="218.50" r="0.9"/><circle cx="66.81" cy="217.56" r="0.9"/><circle cx="68.54" cy="211.67" r="0.9"/><circle cx="70.28" cy="209.80" r="0.9"/><circle cx="72.01" cy="185.69" r="0.9"/><circle cx="73.74" cy="184.96" r="0.9"/><circle cx="75.47" cy="187.24" r="0.9"/><circle cx="77.20" cy="191.73" r="0.9"/><circle cx="78.94" cy="190.97" r="0.9"/><circle cx="80.67" cy="192.18" r="0.9"/><circle cx="82.40" cy="198.21" r="0.9"/><circle cx="84.13" cy="196.56" r="0.9"/><circle cx="85.87" cy="198.69" r="0.9"/><circle cx="87.60" cy="201.34" r="0.9"/><circle cx="89.33" cy="202.30" r="0.9"/><circle cx="91.06" cy="196.35" r="0.9"/><circle cx="92.79" cy="206.35" r="0.9"/><circle cx="94.53" cy="206.81" r="0.9"/><circle cx="96.26" cy="196.57" r="0.9"/><circle cx="97.99" cy="203.14" r="0.9"/><circle cx="99.72" cy="206.22" r="0.9"/><circle cx="101.46" cy="211.10" r="0.9"/><circle cx="103.19" cy="208.31" r="0.9"/><circle cx="104.92" cy="206.67" r="0.9"/><circle cx="106.65" cy="201.65" r="0.9"/><circle cx="108.39" cy="202.21" r="0.9"/><circle cx="110.12" cy="202.50" r="0.9"/><circle cx="111.85" cy="208.23" r="0.9"/><circle cx="113.58" cy="213.23" r="0.9"/><circle cx="115.31" cy="220.39" r="0.9"/><circle cx="117.05" cy="227.06" r="0.9"/><circle cx="118.78" cy="225.47" r="0.9"/><circle cx="120.51" cy="221.62" r="0.9"/><circle cx="122.24" cy="220.09" r="0.9"/><circle cx="123.98" cy="219.54" r="0.9"/><circle cx="125.71" cy="219.17" r="0.9"/><circle cx="127.44" cy="221.89" r="0.9"/><circle cx="129.17" cy="224.93" r="0.9"/><circle cx="130.91" cy="225.55" r="0.9"/><circle cx="132.64" cy="225.87" r="0.9"/><circle cx="134.37" cy="228.65" r="0.9"/><circle cx="136.10" cy="230.74" r="0.9"/><circle cx="137.83" cy="230.70" r="0.9"/><circle cx="139.57" cy="235.03" r="0.9"/><circle cx="141.30" cy="236.44" r="0.9"/><circle cx="143.03" cy="237.34" r="0.9"/><circle cx="144.76" cy="238.56" r="0.9"/><circle cx="146.50" cy="239.86" r="0.9"/><circle cx="148.23" cy="242.41" r="0.9"/><circle cx="149.96" cy="245.20" r="0.9"/><circle cx="151.69" cy="247.07" r="0.9"/><circle cx="153.43" cy="247.86" r="0.9"/><circle cx="155.16" cy="224.27" r="0.9"/><circle cx="156.89" cy="224.71" r="0.9"/><circle cx="158.62" cy="225.48" r="0.9"/><circle cx="160.35" cy="225.43" r="0.9"/><circle cx="162.09" cy="224.02" r="0.9"/><circle cx="163.82" cy="225.84" r="0.9"/><circle cx="165.55" cy="224.14" r="0.9"/><circle cx="167.28" cy="223.74" r="0.9"/><circle cx="169.02" cy="224.69" r="0.9"/><circle cx="170.75" cy="226.11" r="0.9"/><circle cx="172.48" cy="222.95" r="0.9"/><circle cx="174.21" cy="224.22" r="0.9"/><circle cx="175.94" cy="225.04" r="0.9"/><circle cx="177.68" cy="226.14" r="0.9"/><circle cx="179.41" cy="224.93" r="0.9"/><circle cx="181.14" cy="224.67" r="0.9"/><circle cx="182.87" cy="222.99" r="0.9"/><circle cx="184.61" cy="226.86" r="0.9"/><circle cx="186.34" cy="224.33" r="0.9"/><circle cx="188.07" cy="225.22" r="0.9"/><circle cx="189.80" cy="224.44" r="0.9"/><circle cx="191.54" cy="221.38" r="0.9"/><circle cx="193.27" cy="220.53" r="0.9"/><circle cx="195.00" cy="221.75" r="0.9"/></g>
<line x1="28.6" y1="171.4" x2="28.6" y2="284.4" stroke="#1a1a1a" stroke-width="1.4"/>
<line x1="27.9" y1="283.7" x2="195.6" y2="283.7" stroke="#1a1a1a" stroke-width="1.4"/>
<line x1="23.9" y1="172.01999999999998" x2="28.6" y2="172.01999999999998" stroke="#1a1a1a" stroke-width="1.2"/>
<text x="22.0" y="174.92" font-size="8.1" text-anchor="end" font-weight="bold" fill="#111">8</text>
<line x1="23.9" y1="199.94" x2="28.6" y2="199.94" stroke="#1a1a1a" stroke-width="1.2"/>
<text x="22.0" y="202.84" font-size="8.1" text-anchor="end" font-weight="bold" fill="#111">6</text>
<line x1="23.9" y1="227.85999999999999" x2="28.6" y2="227.85999999999999" stroke="#1a1a1a" stroke-width="1.2"/>
<text x="22.0" y="230.76" font-size="8.1" text-anchor="end" font-weight="bold" fill="#111">4</text>
<line x1="23.9" y1="255.77999999999997" x2="28.6" y2="255.77999999999997" stroke="#1a1a1a" stroke-width="1.2"/>
<text x="22.0" y="258.67999999999995" font-size="8.1" text-anchor="end" font-weight="bold" fill="#111">2</text>
<line x1="23.9" y1="283.7" x2="28.6" y2="283.7" stroke="#1a1a1a" stroke-width="1.2"/>
<text x="22.0" y="286.59999999999997" font-size="8.1" text-anchor="end" font-weight="bold" fill="#111">0</text>
<line x1="28.7" y1="283.7" x2="28.7" y2="287.9" stroke="#1a1a1a" stroke-width="1.2"/>
<line x1="49.489999999999995" y1="283.7" x2="49.489999999999995" y2="287.9" stroke="#1a1a1a" stroke-width="1.2"/>
<line x1="70.28" y1="283.7" x2="70.28" y2="287.9" stroke="#1a1a1a" stroke-width="1.2"/>
<line x1="91.07" y1="283.7" x2="91.07" y2="287.9" stroke="#1a1a1a" stroke-width="1.2"/>
<line x1="111.86" y1="283.7" x2="111.86" y2="287.9" stroke="#1a1a1a" stroke-width="1.2"/>
<line x1="132.64999999999998" y1="283.7" x2="132.64999999999998" y2="287.9" stroke="#1a1a1a" stroke-width="1.2"/>
<line x1="153.44" y1="283.7" x2="153.44" y2="287.9" stroke="#1a1a1a" stroke-width="1.2"/>
<line x1="174.23" y1="283.7" x2="174.23" y2="287.9" stroke="#1a1a1a" stroke-width="1.2"/>
<line x1="195.01999999999998" y1="283.7" x2="195.01999999999998" y2="287.9" stroke="#1a1a1a" stroke-width="1.2"/>
<text x="33.1" y="295.6" font-size="5.6" text-anchor="middle" font-weight="bold" fill="#111" textLength="14" lengthAdjust="spacingAndGlyphs">8 am</text>
<text x="71.3" y="295.6" font-size="5.6" text-anchor="middle" font-weight="bold" fill="#111" textLength="14" lengthAdjust="spacingAndGlyphs">8 pm</text>
<text x="116.2" y="295.6" font-size="5.6" text-anchor="middle" font-weight="bold" fill="#111" textLength="14" lengthAdjust="spacingAndGlyphs">8 am</text>
<text x="156" y="295.6" font-size="5.6" text-anchor="middle" font-weight="bold" fill="#111" textLength="14" lengthAdjust="spacingAndGlyphs">8 pm</text>
<text x="112.1" y="305.5" font-size="5.8" text-anchor="middle" font-weight="bold" fill="#111" textLength="32" lengthAdjust="spacingAndGlyphs">Time of day</text>
<text transform="rotate(-90 12.6 226)" x="12.6" y="226" font-size="6.4" font-weight="bold" text-anchor="middle" fill="#111">VO<tspan font-size="4.4" dy="1.6">2</tspan><tspan dy="-1.6">/lean mass (ml/g/h)</tspan></text>
<text x="13.5" y="164.5" font-size="11.5" text-anchor="start" font-weight="bold" fill="#000" textLength="7.5" lengthAdjust="spacingAndGlyphs">D</text>
<rect x="264.00" y="87.70" width="15.00" height="51.40" fill="#8fb0d8"/>
<rect x="279.00" y="70.90" width="14.80" height="68.20" fill="#0d4f63"/>
<rect x="293.80" y="78.10" width="14.90" height="61.00" fill="#c5600d"/>
<rect x="324.00" y="79.20" width="14.60" height="59.90" fill="#8fb0d8"/>
<rect x="338.60" y="128.20" width="15.10" height="10.90" fill="#0d4f63"/>
<rect x="353.70" y="132.50" width="15.30" height="6.60" fill="#c5600d"/>
<line x1="271.3" y1="80" x2="271.3" y2="94.7" stroke="#1a1a1a" stroke-width="0.9"/>
<line x1="268.2" y1="80" x2="274.40000000000003" y2="80" stroke="#1a1a1a" stroke-width="0.9"/>
<line x1="268.2" y1="94.7" x2="274.40000000000003" y2="94.7" stroke="#1a1a1a" stroke-width="0.9"/>
<line x1="286.2" y1="63.9" x2="286.2" y2="77.1" stroke="#1a1a1a" stroke-width="0.9"/>
<line x1="283.09999999999997" y1="63.9" x2="289.3" y2="63.9" stroke="#1a1a1a" stroke-width="0.9"/>
<line x1="283.09999999999997" y1="77.1" x2="289.3" y2="77.1" stroke="#1a1a1a" stroke-width="0.9"/>
<line x1="301.3" y1="72" x2="301.3" y2="84.4" stroke="#1a1a1a" stroke-width="0.9"/>
<line x1="298.2" y1="72" x2="304.40000000000003" y2="72" stroke="#1a1a1a" stroke-width="0.9"/>
<line x1="298.2" y1="84.4" x2="304.40000000000003" y2="84.4" stroke="#1a1a1a" stroke-width="0.9"/>
<line x1="331.3" y1="70.4" x2="331.3" y2="85.8" stroke="#1a1a1a" stroke-width="0.9"/>
<line x1="328.2" y1="70.4" x2="334.40000000000003" y2="70.4" stroke="#1a1a1a" stroke-width="0.9"/>
<line x1="328.2" y1="85.8" x2="334.40000000000003" y2="85.8" stroke="#1a1a1a" stroke-width="0.9"/>
<line x1="346.2" y1="124.3" x2="346.2" y2="131.5" stroke="#1a1a1a" stroke-width="0.9"/>
<line x1="343.09999999999997" y1="124.3" x2="349.3" y2="124.3" stroke="#1a1a1a" stroke-width="0.9"/>
<line x1="343.09999999999997" y1="131.5" x2="349.3" y2="131.5" stroke="#1a1a1a" stroke-width="0.9"/>
<line x1="361.3" y1="128.9" x2="361.3" y2="135.5" stroke="#1a1a1a" stroke-width="0.9"/>
<line x1="358.2" y1="128.9" x2="364.40000000000003" y2="128.9" stroke="#1a1a1a" stroke-width="0.9"/>
<line x1="358.2" y1="135.5" x2="364.40000000000003" y2="135.5" stroke="#1a1a1a" stroke-width="0.9"/>
<g fill="#151515"><circle cx="271.3" cy="67.2" r="0.72"/><circle cx="271.3" cy="77.1" r="0.72"/><circle cx="271.3" cy="102.6" r="0.72"/><circle cx="271.3" cy="105.5" r="0.72"/><circle cx="286.2" cy="60.1" r="0.72"/><circle cx="286.2" cy="62.3" r="0.72"/><circle cx="286.2" cy="96.8" r="0.72"/><circle cx="301.3" cy="55.2" r="0.72"/><circle cx="301.3" cy="63" r="0.72"/><circle cx="301.3" cy="68.8" r="0.72"/><circle cx="301.3" cy="80.3" r="0.72"/><circle cx="301.3" cy="86.1" r="0.72"/><circle cx="301.3" cy="91" r="0.72"/><circle cx="301.3" cy="107.8" r="0.72"/><circle cx="331.3" cy="49.8" r="0.72"/><circle cx="331.3" cy="82.5" r="0.72"/><circle cx="329.8" cy="86.8" r="0.72"/><circle cx="332.8" cy="86.8" r="0.72"/><circle cx="344.6" cy="126.2" r="0.72"/><circle cx="346.2" cy="126.2" r="0.72"/><circle cx="347.8" cy="126.2" r="0.72"/><circle cx="345.4" cy="124.6" r="0.72"/><circle cx="347" cy="124.6" r="0.72"/><circle cx="346.2" cy="129.8" r="0.72"/><circle cx="361.3" cy="118.4" r="0.72"/><circle cx="361.3" cy="125.6" r="0.72"/><circle cx="359.8" cy="132.2" r="0.72"/><circle cx="362.8" cy="132.2" r="0.72"/><circle cx="361.3" cy="134" r="0.72"/></g>
<line x1="256.2" y1="18.799999999999997" x2="256.2" y2="139.8" stroke="#1a1a1a" stroke-width="1.3"/>
<line x1="251.2" y1="139.1" x2="377.2" y2="139.1" stroke="#1a1a1a" stroke-width="1.3"/>
<line x1="251.2" y1="19.4" x2="256.2" y2="19.4" stroke="#1a1a1a" stroke-width="1.2"/>
<text x="250.1" y="22.5" font-size="8.7" text-anchor="end" font-weight="bold" fill="#111">0.8</text>
<line x1="251.2" y1="49.3" x2="256.2" y2="49.3" stroke="#1a1a1a" stroke-width="1.2"/>
<text x="250.1" y="52.4" font-size="8.7" text-anchor="end" font-weight="bold" fill="#111">0.6</text>
<line x1="251.2" y1="79.3" x2="256.2" y2="79.3" stroke="#1a1a1a" stroke-width="1.2"/>
<text x="250.1" y="82.39999999999999" font-size="8.7" text-anchor="end" font-weight="bold" fill="#111">0.4</text>
<line x1="251.2" y1="109.2" x2="256.2" y2="109.2" stroke="#1a1a1a" stroke-width="1.2"/>
<text x="250.1" y="112.3" font-size="8.7" text-anchor="end" font-weight="bold" fill="#111">0.2</text>
<line x1="251.2" y1="139.1" x2="256.2" y2="139.1" stroke="#1a1a1a" stroke-width="1.2"/>
<text x="250.1" y="142.2" font-size="8.7" text-anchor="end" font-weight="bold" fill="#111">0.0</text>
<text x="285.95" y="146.9" font-size="5.2" text-anchor="middle" font-weight="normal" fill="#222" textLength="47.9" lengthAdjust="spacingAndGlyphs">Day before IP injection</text>
<text x="346.29999999999995" y="146.9" font-size="5.2" text-anchor="middle" font-weight="normal" fill="#222" textLength="43.8" lengthAdjust="spacingAndGlyphs">Day after IP injection</text>
<text x="232" y="78.8" font-size="6.3" text-anchor="middle" font-weight="bold" fill="#111" textLength="79.8" lengthAdjust="spacingAndGlyphs" transform="rotate(-90 232 78.8)">Energy intake (kcal/day/g)</text>
<text x="223.8" y="14.1" font-size="11.5" text-anchor="start" font-weight="bold" fill="#000" textLength="6.6" lengthAdjust="spacingAndGlyphs">B</text>
<rect x="275.70" y="8.60" width="8.00" height="3.60" fill="#8fb0d8" stroke="#86a7d0" stroke-width="0.4"/>
<text x="288.3" y="12.7" font-size="6.3" text-anchor="start" font-weight="normal" fill="#444">SF</text>
<rect x="275.70" y="18.60" width="8.00" height="3.60" fill="#0d4f63" stroke="#0a4255" stroke-width="0.4"/>
<text x="288.3" y="22.7" font-size="6.3" text-anchor="start" font-weight="normal" fill="#444">SPF</text>
<rect x="275.70" y="28.40" width="8.00" height="3.60" fill="#c5600d" stroke="#b0500a" stroke-width="0.4"/>
<text x="288.3" y="32.5" font-size="6.3" text-anchor="start" font-weight="normal" fill="#444">Sepsis</text>
<text x="341.3" y="35.6" font-size="4.8" text-anchor="middle" font-weight="bold" fill="#333" textLength="11.4" lengthAdjust="spacingAndGlyphs">####</text>
<line x1="332.6" y1="39.6" x2="350" y2="39.6" stroke="#777" stroke-width="1.1"/>
<rect x="436.60" y="87.00" width="14.80" height="51.00" fill="#8fb0d8"/>
<rect x="451.40" y="90.60" width="15.00" height="47.40" fill="#0d4f63"/>
<rect x="466.40" y="96.00" width="14.60" height="42.00" fill="#c5600d"/>
<rect x="496.00" y="79.00" width="15.00" height="59.00" fill="#8fb0d8"/>
<rect x="511.00" y="102.20" width="15.00" height="35.80" fill="#0d4f63"/>
<rect x="526.00" y="117.60" width="14.40" height="20.40" fill="#c5600d"/>
<line x1="443.9" y1="79.4" x2="443.9" y2="94" stroke="#1a1a1a" stroke-width="0.9"/>
<line x1="440.79999999999995" y1="79.4" x2="447.0" y2="79.4" stroke="#1a1a1a" stroke-width="0.9"/>
<line x1="440.79999999999995" y1="94" x2="447.0" y2="94" stroke="#1a1a1a" stroke-width="0.9"/>
<line x1="458.9" y1="83" x2="458.9" y2="98" stroke="#1a1a1a" stroke-width="0.9"/>
<line x1="455.79999999999995" y1="83" x2="462.0" y2="83" stroke="#1a1a1a" stroke-width="0.9"/>
<line x1="455.79999999999995" y1="98" x2="462.0" y2="98" stroke="#1a1a1a" stroke-width="0.9"/>
<line x1="473.7" y1="87.4" x2="473.7" y2="103.6" stroke="#1a1a1a" stroke-width="0.9"/>
<line x1="470.59999999999997" y1="87.4" x2="476.8" y2="87.4" stroke="#1a1a1a" stroke-width="0.9"/>
<line x1="470.59999999999997" y1="103.6" x2="476.8" y2="103.6" stroke="#1a1a1a" stroke-width="0.9"/>
<line x1="503.5" y1="67.4" x2="503.5" y2="90.4" stroke="#1a1a1a" stroke-width="0.9"/>
<line x1="500.4" y1="67.4" x2="506.6" y2="67.4" stroke="#1a1a1a" stroke-width="0.9"/>
<line x1="500.4" y1="90.4" x2="506.6" y2="90.4" stroke="#1a1a1a" stroke-width="0.9"/>
<line x1="518.5" y1="87.4" x2="518.5" y2="116" stroke="#1a1a1a" stroke-width="0.9"/>
<line x1="515.4" y1="87.4" x2="521.6" y2="87.4" stroke="#1a1a1a" stroke-width="0.9"/>
<line x1="515.4" y1="116" x2="521.6" y2="116" stroke="#1a1a1a" stroke-width="0.9"/>
<line x1="533.2" y1="107" x2="533.2" y2="128" stroke="#1a1a1a" stroke-width="0.9"/>
<line x1="530.1" y1="107" x2="536.3000000000001" y2="107" stroke="#1a1a1a" stroke-width="0.9"/>
<line x1="530.1" y1="128" x2="536.3000000000001" y2="128" stroke="#1a1a1a" stroke-width="0.9"/>
<g fill="#151515"><circle cx="443" cy="68.6" r="0.72"/><circle cx="444.8" cy="69" r="0.72"/><circle cx="443.9" cy="92" r="0.72"/><circle cx="443" cy="97" r="0.72"/><circle cx="444.8" cy="97.5" r="0.72"/><circle cx="443.9" cy="102" r="0.72"/><circle cx="458.9" cy="70.6" r="0.72"/><circle cx="458.9" cy="78.8" r="0.72"/><circle cx="458.9" cy="92" r="0.72"/><circle cx="458" cy="106" r="0.72"/><circle cx="459.8" cy="106" r="0.72"/><circle cx="473.7" cy="54" r="0.72"/><circle cx="473.7" cy="76" r="0.72"/><circle cx="473.7" cy="86" r="0.72"/><circle cx="473.7" cy="110" r="0.72"/><circle cx="473.7" cy="116" r="0.72"/><circle cx="473.7" cy="121" r="0.72"/><circle cx="503.2" cy="33.6" r="0.72"/><circle cx="503.5" cy="85" r="0.72"/><circle cx="503.5" cy="88" r="0.72"/><circle cx="503.5" cy="93" r="0.72"/><circle cx="503.5" cy="98" r="0.72"/><circle cx="518" cy="59.6" r="0.72"/><circle cx="518.5" cy="92" r="0.72"/><circle cx="518.5" cy="133" r="0.72"/><circle cx="533" cy="45.2" r="0.72"/><circle cx="533.2" cy="113" r="0.72"/><circle cx="533.2" cy="118" r="0.72"/><circle cx="533.2" cy="122" r="0.72"/><circle cx="533.2" cy="127" r="0.72"/><circle cx="532" cy="131" r="0.72"/><circle cx="534.4" cy="131" r="0.72"/></g>
<line x1="429.1" y1="18.7" x2="429.1" y2="138.7" stroke="#1a1a1a" stroke-width="1.3"/>
<line x1="424.1" y1="138.0" x2="548.2" y2="138.0" stroke="#1a1a1a" stroke-width="1.3"/>
<line x1="424.1" y1="19.3" x2="429.1" y2="19.3" stroke="#1a1a1a" stroke-width="1.2"/>
<text x="422.3" y="22.400000000000002" font-size="8.7" text-anchor="end" font-weight="bold" fill="#111">30,000</text>
<line x1="424.1" y1="58.9" x2="429.1" y2="58.9" stroke="#1a1a1a" stroke-width="1.2"/>
<text x="422.3" y="62.0" font-size="8.7" text-anchor="end" font-weight="bold" fill="#111">20,000</text>
<line x1="424.1" y1="98.4" x2="429.1" y2="98.4" stroke="#1a1a1a" stroke-width="1.2"/>
<text x="422.3" y="101.5" font-size="8.7" text-anchor="end" font-weight="bold" fill="#111">10,000</text>
<line x1="424.1" y1="138.0" x2="429.1" y2="138.0" stroke="#1a1a1a" stroke-width="1.2"/>
<text x="422.3" y="141.1" font-size="8.7" text-anchor="end" font-weight="bold" fill="#111">0</text>
<line x1="424.1" y1="39.1" x2="429.1" y2="39.1" stroke="#1a1a1a" stroke-width="1.2"/>
<line x1="424.1" y1="78.7" x2="429.1" y2="78.7" stroke="#1a1a1a" stroke-width="1.2"/>
<line x1="424.1" y1="118.2" x2="429.1" y2="118.2" stroke="#1a1a1a" stroke-width="1.2"/>
<text x="458.75" y="145.8" font-size="5.2" text-anchor="middle" font-weight="normal" fill="#222" textLength="47.3" lengthAdjust="spacingAndGlyphs">Day before IP injection</text>
<text x="518.0" y="145.8" font-size="5.2" text-anchor="middle" font-weight="normal" fill="#222" textLength="42.8" lengthAdjust="spacingAndGlyphs">Day after IP injection</text>
<text x="391.3" y="78.6" font-size="6.3" text-anchor="middle" font-weight="bold" fill="#111" textLength="100.2" lengthAdjust="spacingAndGlyphs" transform="rotate(-90 391.3 78.6)">Ambulatory activity (counts/day)</text>
<text x="386.6" y="12.8" font-size="11.5" text-anchor="start" font-weight="bold" fill="#000" textLength="6.4" lengthAdjust="spacingAndGlyphs">C</text>
<rect x="265.30" y="225.00" width="15.10" height="56.80" fill="#8fb0d8"/>
<rect x="280.40" y="221.00" width="15.20" height="60.80" fill="#0d4f63"/>
<rect x="295.60" y="217.00" width="15.40" height="64.80" fill="#c5600d"/>
<rect x="326.40" y="210.00" width="15.00" height="71.80" fill="#8fb0d8"/>
<rect x="341.40" y="225.40" width="15.20" height="56.40" fill="#0d4f63"/>
<rect x="356.60" y="233.00" width="15.00" height="48.80" fill="#c5600d"/>
<line x1="272.8" y1="223.4" x2="272.8" y2="226.4" stroke="#1a1a1a" stroke-width="0.9"/>
<line x1="269.7" y1="223.4" x2="275.90000000000003" y2="223.4" stroke="#1a1a1a" stroke-width="0.9"/>
<line x1="269.7" y1="226.4" x2="275.90000000000003" y2="226.4" stroke="#1a1a1a" stroke-width="0.9"/>
<line x1="288" y1="214.4" x2="288" y2="228" stroke="#1a1a1a" stroke-width="0.9"/>
<line x1="284.9" y1="214.4" x2="291.1" y2="214.4" stroke="#1a1a1a" stroke-width="0.9"/>
<line x1="284.9" y1="228" x2="291.1" y2="228" stroke="#1a1a1a" stroke-width="0.9"/>
<line x1="303.3" y1="214.4" x2="303.3" y2="220" stroke="#1a1a1a" stroke-width="0.9"/>
<line x1="300.2" y1="214.4" x2="306.40000000000003" y2="214.4" stroke="#1a1a1a" stroke-width="0.9"/>
<line x1="300.2" y1="220" x2="306.40000000000003" y2="220" stroke="#1a1a1a" stroke-width="0.9"/>
<line x1="333.9" y1="206.6" x2="333.9" y2="213.6" stroke="#1a1a1a" stroke-width="0.9"/>
<line x1="330.79999999999995" y1="206.6" x2="337.0" y2="206.6" stroke="#1a1a1a" stroke-width="0.9"/>
<line x1="330.79999999999995" y1="213.6" x2="337.0" y2="213.6" stroke="#1a1a1a" stroke-width="0.9"/>
<line x1="349" y1="212.4" x2="349" y2="238" stroke="#1a1a1a" stroke-width="0.9"/>
<line x1="345.9" y1="212.4" x2="352.1" y2="212.4" stroke="#1a1a1a" stroke-width="0.9"/>
<line x1="345.9" y1="238" x2="352.1" y2="238" stroke="#1a1a1a" stroke-width="0.9"/>
<line x1="364.1" y1="225.6" x2="364.1" y2="248" stroke="#1a1a1a" stroke-width="0.9"/>
<line x1="361.0" y1="225.6" x2="367.20000000000005" y2="225.6" stroke="#1a1a1a" stroke-width="0.9"/>
<line x1="361.0" y1="248" x2="367.20000000000005" y2="248" stroke="#1a1a1a" stroke-width="0.9"/>
<g fill="#151515"><circle cx="272.8" cy="220" r="0.72"/><circle cx="271.3" cy="224.5" r="0.72"/><circle cx="274.3" cy="224.5" r="0.72"/><circle cx="272.8" cy="226" r="0.72"/><circle cx="288" cy="199" r="0.72"/><circle cx="288" cy="208" r="0.72"/><circle cx="288" cy="219" r="0.72"/><circle cx="288" cy="236" r="0.72"/><circle cx="303.3" cy="206" r="0.72"/><circle cx="303.3" cy="208" r="0.72"/><circle cx="303.3" cy="216" r="0.72"/><circle cx="303.3" cy="219" r="0.72"/><circle cx="303.3" cy="222" r="0.72"/><circle cx="301.8" cy="226" r="0.72"/><circle cx="304.8" cy="226" r="0.72"/><circle cx="303.3" cy="229" r="0.72"/><circle cx="333.9" cy="201" r="0.72"/><circle cx="333.9" cy="206.5" r="0.72"/><circle cx="333.9" cy="214.6" r="0.72"/><circle cx="333.9" cy="218.6" r="0.72"/><circle cx="349" cy="191" r="0.72"/><circle cx="349" cy="208" r="0.72"/><circle cx="349" cy="244" r="0.72"/><circle cx="349" cy="252" r="0.72"/><circle cx="364.1" cy="204" r="0.72"/><circle cx="364.1" cy="214" r="0.72"/><circle cx="364.1" cy="222" r="0.72"/><circle cx="364.1" cy="228" r="0.72"/><circle cx="364.1" cy="234" r="0.72"/><circle cx="364.1" cy="244" r="0.72"/><circle cx="364.1" cy="258" r="0.72"/></g>
<line x1="257.5" y1="159.70000000000002" x2="257.5" y2="282.5" stroke="#1a1a1a" stroke-width="1.3"/>
<line x1="252.5" y1="281.8" x2="379.8" y2="281.8" stroke="#1a1a1a" stroke-width="1.3"/>
<line x1="252.5" y1="160.3" x2="257.5" y2="160.3" stroke="#1a1a1a" stroke-width="1.2"/>
<text x="251.0" y="163.4" font-size="8.7" text-anchor="end" font-weight="bold" fill="#111">0.8</text>
<line x1="252.5" y1="190.7" x2="257.5" y2="190.7" stroke="#1a1a1a" stroke-width="1.2"/>
<text x="251.0" y="193.79999999999998" font-size="8.7" text-anchor="end" font-weight="bold" fill="#111">0.6</text>
<line x1="252.5" y1="221.1" x2="257.5" y2="221.1" stroke="#1a1a1a" stroke-width="1.2"/>
<text x="251.0" y="224.2" font-size="8.7" text-anchor="end" font-weight="bold" fill="#111">0.4</text>
<line x1="252.5" y1="251.4" x2="257.5" y2="251.4" stroke="#1a1a1a" stroke-width="1.2"/>
<text x="251.0" y="254.5" font-size="8.7" text-anchor="end" font-weight="bold" fill="#111">0.2</text>
<line x1="252.5" y1="281.8" x2="257.5" y2="281.8" stroke="#1a1a1a" stroke-width="1.2"/>
<text x="251.0" y="284.90000000000003" font-size="8.7" text-anchor="end" font-weight="bold" fill="#111">0.0</text>
<text x="288.04999999999995" y="289.40000000000003" font-size="5.2" text-anchor="middle" font-weight="normal" fill="#222" textLength="48.7" lengthAdjust="spacingAndGlyphs">Day before IP injection</text>
<text x="349.0" y="289.40000000000003" font-size="5.2" text-anchor="middle" font-weight="normal" fill="#222" textLength="44" lengthAdjust="spacingAndGlyphs">Day after IP injection</text>
<text x="233" y="220" font-size="6.3" text-anchor="middle" font-weight="bold" fill="#111" textLength="99" lengthAdjust="spacingAndGlyphs" transform="rotate(-90 233 220)">Energy expenditure (kcal/day/g)</text>
<text x="224.9" y="162.7" font-size="11.5" text-anchor="start" font-weight="bold" fill="#000" textLength="5.5" lengthAdjust="spacingAndGlyphs">E</text>
<rect x="437.00" y="201.00" width="14.40" height="6.60" fill="#8fb0d8"/>
<rect x="451.40" y="195.60" width="14.60" height="5.40" fill="#0d4f63"/>
<rect x="466.60" y="201.00" width="14.40" height="1.60" fill="#c5600d"/>
<rect x="496.00" y="198.00" width="15.00" height="3.00" fill="#8fb0d8"/>
<rect x="511.00" y="201.00" width="14.60" height="31.00" fill="#0d4f63"/>
<rect x="525.60" y="201.00" width="14.40" height="26.60" fill="#c5600d"/>
<line x1="429.4" y1="201.0" x2="548" y2="201.0" stroke="#222" stroke-width="1.0" stroke-dasharray="1.0 2.0"/>
<line x1="444.2" y1="203.5" x2="444.2" y2="212.6" stroke="#1a1a1a" stroke-width="0.9"/>
<line x1="441.09999999999997" y1="203.5" x2="447.3" y2="203.5" stroke="#1a1a1a" stroke-width="0.9"/>
<line x1="441.09999999999997" y1="212.6" x2="447.3" y2="212.6" stroke="#1a1a1a" stroke-width="0.9"/>
<line x1="458.6" y1="186.4" x2="458.6" y2="204.4" stroke="#1a1a1a" stroke-width="0.9"/>
<line x1="455.5" y1="186.4" x2="461.70000000000005" y2="186.4" stroke="#1a1a1a" stroke-width="0.9"/>
<line x1="455.5" y1="204.4" x2="461.70000000000005" y2="204.4" stroke="#1a1a1a" stroke-width="0.9"/>
<line x1="473.8" y1="197.6" x2="473.8" y2="206.8" stroke="#1a1a1a" stroke-width="0.9"/>
<line x1="470.7" y1="197.6" x2="476.90000000000003" y2="197.6" stroke="#1a1a1a" stroke-width="0.9"/>
<line x1="470.7" y1="206.8" x2="476.90000000000003" y2="206.8" stroke="#1a1a1a" stroke-width="0.9"/>
<line x1="503.5" y1="189.2" x2="503.5" y2="206.6" stroke="#1a1a1a" stroke-width="0.9"/>
<line x1="500.4" y1="189.2" x2="506.6" y2="189.2" stroke="#1a1a1a" stroke-width="0.9"/>
<line x1="500.4" y1="206.6" x2="506.6" y2="206.6" stroke="#1a1a1a" stroke-width="0.9"/>
<line x1="518.3" y1="225" x2="518.3" y2="239.4" stroke="#1a1a1a" stroke-width="0.9"/>
<line x1="515.1999999999999" y1="225" x2="521.4" y2="225" stroke="#1a1a1a" stroke-width="0.9"/>
<line x1="515.1999999999999" y1="239.4" x2="521.4" y2="239.4" stroke="#1a1a1a" stroke-width="0.9"/>
<line x1="532.8" y1="222" x2="532.8" y2="234" stroke="#1a1a1a" stroke-width="0.9"/>
<line x1="529.6999999999999" y1="222" x2="535.9" y2="222" stroke="#1a1a1a" stroke-width="0.9"/>
<line x1="529.6999999999999" y1="234" x2="535.9" y2="234" stroke="#1a1a1a" stroke-width="0.9"/>
<g fill="#151515"><circle cx="444.2" cy="193.6" r="0.72"/><circle cx="444.2" cy="204" r="0.72"/><circle cx="443.5" cy="214.6" r="0.72"/><circle cx="445" cy="214.6" r="0.72"/><circle cx="444.6" cy="213" r="0.72"/><circle cx="458.6" cy="179" r="0.72"/><circle cx="458.6" cy="181.6" r="0.72"/><circle cx="458.6" cy="199" r="0.72"/><circle cx="458.6" cy="203.5" r="0.72"/><circle cx="458.6" cy="226.8" r="0.72"/><circle cx="473.8" cy="182.6" r="0.72"/><circle cx="473.8" cy="189" r="0.72"/><circle cx="473.8" cy="191" r="0.72"/><circle cx="473.8" cy="200" r="0.72"/><circle cx="473.8" cy="206" r="0.72"/><circle cx="473.8" cy="215" r="0.72"/><circle cx="473.8" cy="222" r="0.72"/><circle cx="503.5" cy="174.6" r="0.72"/><circle cx="503.5" cy="184" r="0.72"/><circle cx="503.5" cy="209.6" r="0.72"/><circle cx="503.5" cy="221" r="0.72"/><circle cx="518.3" cy="212" r="0.72"/><circle cx="518.3" cy="259" r="0.72"/><circle cx="532.8" cy="207" r="0.72"/><circle cx="532.8" cy="213" r="0.72"/><circle cx="532.8" cy="216" r="0.72"/><circle cx="532.8" cy="225" r="0.72"/><circle cx="532.8" cy="236" r="0.72"/><circle cx="532.8" cy="240" r="0.72"/><circle cx="532.8" cy="244" r="0.72"/><circle cx="532.8" cy="251" r="0.72"/></g>
<line x1="429.4" y1="161.20000000000002" x2="429.4" y2="280.1" stroke="#1a1a1a" stroke-width="1.3"/>
<line x1="424.4" y1="161.8" x2="429.4" y2="161.8" stroke="#1a1a1a" stroke-width="1.2"/>
<text x="423.4" y="164.9" font-size="8.7" text-anchor="end" font-weight="bold" fill="#111">0.4</text>
<line x1="424.4" y1="181.4" x2="429.4" y2="181.4" stroke="#1a1a1a" stroke-width="1.2"/>
<text x="423.4" y="184.5" font-size="8.7" text-anchor="end" font-weight="bold" fill="#111">0.2</text>
<line x1="424.4" y1="201.0" x2="429.4" y2="201.0" stroke="#1a1a1a" stroke-width="1.2"/>
<text x="423.4" y="204.1" font-size="8.7" text-anchor="end" font-weight="bold" fill="#111">0.0</text>
<line x1="424.4" y1="220.6" x2="429.4" y2="220.6" stroke="#1a1a1a" stroke-width="1.2"/>
<text x="423.4" y="223.7" font-size="8.7" text-anchor="end" font-weight="bold" fill="#111">−0.2</text>
<line x1="424.4" y1="240.2" x2="429.4" y2="240.2" stroke="#1a1a1a" stroke-width="1.2"/>
<text x="423.4" y="243.29999999999998" font-size="8.7" text-anchor="end" font-weight="bold" fill="#111">−0.4</text>
<line x1="424.4" y1="259.8" x2="429.4" y2="259.8" stroke="#1a1a1a" stroke-width="1.2"/>
<text x="423.4" y="262.90000000000003" font-size="8.7" text-anchor="end" font-weight="bold" fill="#111">−0.6</text>
<line x1="424.4" y1="279.45" x2="429.4" y2="279.45" stroke="#1a1a1a" stroke-width="1.2"/>
<text x="423.4" y="282.55" font-size="8.7" text-anchor="end" font-weight="bold" fill="#111">−0.8</text>
<text x="459.0" y="287.3" font-size="5.2" text-anchor="middle" font-weight="normal" fill="#222" textLength="47.2" lengthAdjust="spacingAndGlyphs">Day before IP injection</text>
<text x="518.0" y="287.3" font-size="5.2" text-anchor="middle" font-weight="normal" fill="#222" textLength="42.8" lengthAdjust="spacingAndGlyphs">Day after IP injection</text>
<text x="403" y="220.7" font-size="6.3" text-anchor="middle" font-weight="bold" fill="#111" textLength="83.6" lengthAdjust="spacingAndGlyphs" transform="rotate(-90 403 220.7)">Energy balance (kcal/day/g)</text>
<text x="390.2" y="165.9" font-size="11.5" text-anchor="start" font-weight="bold" fill="#000" textLength="5.1" lengthAdjust="spacingAndGlyphs">F</text>
<text x="511.2" y="158.8" font-size="4.8" text-anchor="middle" font-weight="bold" fill="#333">#</text>
<line x1="504" y1="163.4" x2="519.6" y2="163.4" stroke="#777" stroke-width="1.1"/>
</svg></body></html>
